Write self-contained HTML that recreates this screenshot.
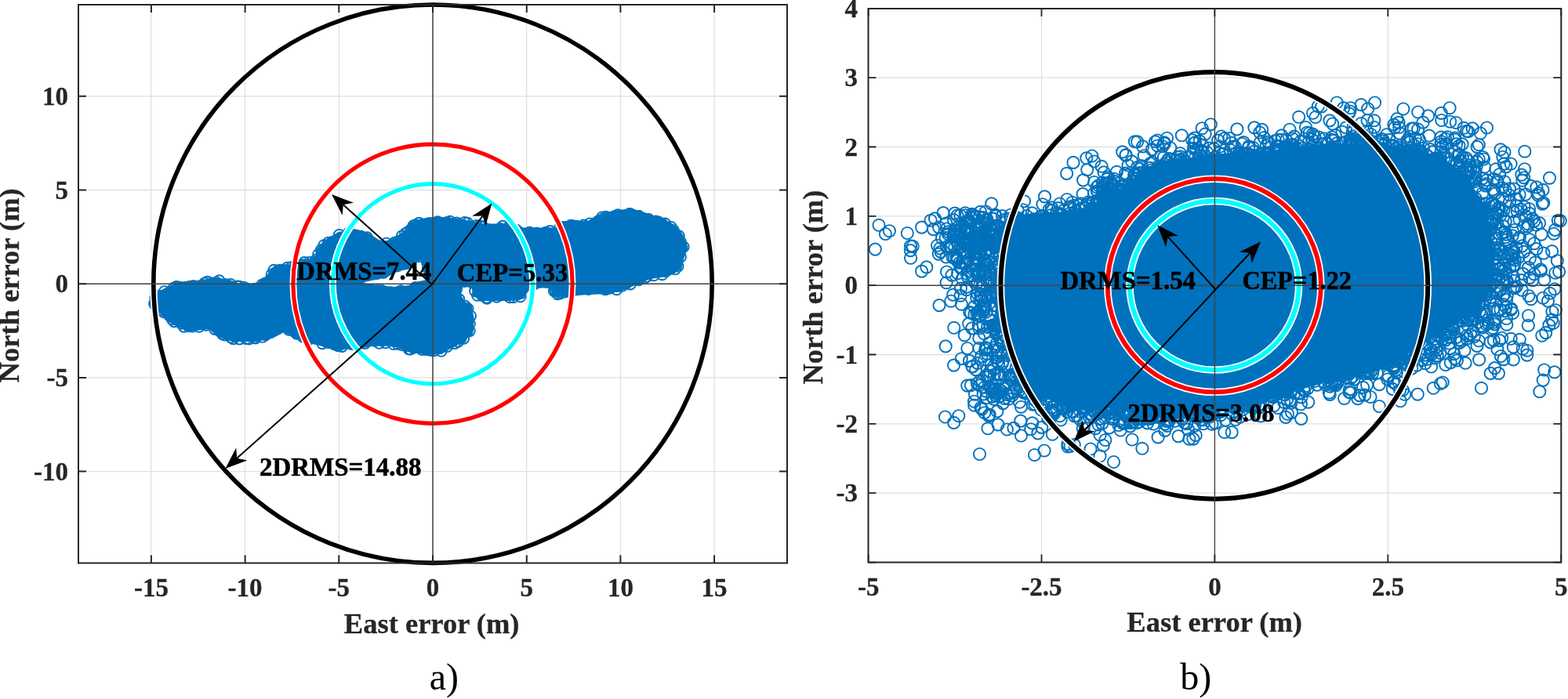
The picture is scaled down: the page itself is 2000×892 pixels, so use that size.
<!DOCTYPE html><html><head><meta charset="utf-8"><style>html,body{margin:0;padding:0;background:#fff}body{width:2000px;height:892px;overflow:hidden}svg{display:block}circle.m{fill:none;stroke:#0072BD}</style></head><body>
<svg width="2000" height="892" viewBox="0 0 2000 892">
<rect width="2000" height="892" fill="#fff"/>
<g id="L">
<path d="M192.9 6V718.5M312.6 6V718.5M432.3 6V718.5M552 6V718.5M671.8 6V718.5M791.4 6V718.5M911.1 6V718.5M100 601.6H1004M100 481.9H1004M100 362.2H1004M100 242.5H1004M100 122.8H1004" stroke="#e0e0e0" stroke-width="1.3" fill="none"/>
<path d="M191 388L194 380L201 374L212 368L222 364L232 361.5L253 358.5L276 355.7L290 357L298 360L305 363L326 363.5L334 358.6L341 352L347 343L354 339L370 338L382 334L396 330.5L403 327L405 318L411 312L420 304L432 297.6L450 294L462 295L474 301L486 309L498 307L508 301L516 296L522 286L534 281L546 278.5L558 277.5L570 278.5L593 281.3L615 286.5L647 286.5L657 288L668 291.4L709 291.4L716 283L732 283L750 283L762 275L780 270.5L804 267L826 274L843 278.6L858 286.6L868.6 297.4L875.8 315.3L870.4 333.3L868.6 342.2L857.8 349.4L843.5 353L829 355L816.6 360.2L804 365.6L789.7 371L771.7 374.5L753.8 374.5L735.9 376.3L723.3 378.1L716 377L706 378L703 367L685 366L674 367L668 380L659 382.5L640 383L620 383L610 381L604 376L602.5 366L595 364.5L588 366L587 376L590 384L600.8 390.8L603.6 406.2L602.2 424.4L591 435.6L574.2 444L563 451L542 451L521 448.2L507 442.6L493 440.5L472 441.2L458 444L444 444L430 446.8L416 442.6L402 438.4L388 435.6L374 430L362 423L347.6 430.7L325.7 435.1L296.6 435.1L276.2 427.8L267.4 419L241.2 422L220.8 413.3L209.1 404.5L201.9 395.8Z" fill="#0072BD" stroke="#0072BD" stroke-width="2" stroke-linejoin="round"/>
<path d="M462.3 360.6L478 357.2L494.9 352.7L502.7 347.1L512.8 344.9L522.9 341.5L530.7 333.6L537.5 332.5L539.7 340.4L541.9 353.8L544.2 358.3L528.5 360.6L522.9 363.9L500.5 366.2L483.6 363.9L466.8 361.7Z" fill="#fff"/>
<g fill="none" stroke="#0072BD" stroke-width="1.9">
<circle cx="197.3" cy="388.2" r="6.8"/><circle cx="198.8" cy="382.3" r="6.8"/><circle cx="198.1" cy="380.8" r="6.8"/><circle cx="203.6" cy="380.2" r="6.8"/><circle cx="203.3" cy="377.4" r="6.8"/><circle cx="207.7" cy="379.1" r="6.8"/><circle cx="209.7" cy="371.9" r="6.8"/><circle cx="218.5" cy="372.5" r="6.8"/><circle cx="221.7" cy="367.4" r="6.8"/><circle cx="224.9" cy="365.8" r="6.8"/><circle cx="228.5" cy="366.2" r="6.8"/><circle cx="231.6" cy="367" r="6.8"/><circle cx="236.5" cy="366.5" r="6.8"/><circle cx="241.5" cy="365.7" r="6.8"/><circle cx="246.5" cy="364.7" r="6.8"/><circle cx="250.7" cy="367.9" r="6.8"/><circle cx="257.6" cy="364.9" r="6.8"/><circle cx="261" cy="361.2" r="6.8"/><circle cx="264.6" cy="359.6" r="6.8"/><circle cx="270.3" cy="361.2" r="6.8"/><circle cx="276" cy="360.4" r="6.8"/><circle cx="279.6" cy="358" r="6.8"/><circle cx="282.5" cy="364.7" r="6.8"/><circle cx="286.8" cy="365.6" r="6.8"/><circle cx="288.1" cy="363.1" r="6.8"/><circle cx="294.1" cy="362.7" r="6.8"/><circle cx="295.9" cy="368.6" r="6.8"/><circle cx="303.3" cy="365.3" r="6.8"/><circle cx="305.4" cy="365.4" r="6.8"/><circle cx="310.9" cy="366.4" r="6.8"/><circle cx="315.6" cy="368.4" r="6.8"/><circle cx="319" cy="370.5" r="6.8"/><circle cx="322.1" cy="369.9" r="6.8"/><circle cx="325.3" cy="368.4" r="6.8"/><circle cx="331.6" cy="370.4" r="6.8"/><circle cx="334" cy="363.5" r="6.8"/><circle cx="338" cy="361.4" r="6.8"/><circle cx="343.3" cy="358.7" r="6.8"/><circle cx="346.4" cy="350.2" r="6.8"/><circle cx="351.6" cy="349.4" r="6.8"/><circle cx="349.4" cy="344.5" r="6.8"/><circle cx="353.8" cy="346.1" r="6.8"/><circle cx="357" cy="344.5" r="6.8"/><circle cx="356.6" cy="347.6" r="6.8"/><circle cx="360.8" cy="344.6" r="6.8"/><circle cx="366.5" cy="341.5" r="6.8"/><circle cx="370" cy="346.4" r="6.8"/><circle cx="372.1" cy="340.8" r="6.8"/><circle cx="378.9" cy="344.1" r="6.8"/><circle cx="382.1" cy="343.1" r="6.8"/><circle cx="385.8" cy="338.1" r="6.8"/><circle cx="388.2" cy="334.8" r="6.8"/><circle cx="394.5" cy="334.7" r="6.8"/><circle cx="400.5" cy="336.9" r="6.8"/><circle cx="403.2" cy="331.4" r="6.8"/><circle cx="406.1" cy="324.4" r="6.8"/><circle cx="410.2" cy="321.7" r="6.8"/><circle cx="409.8" cy="318.8" r="6.8"/><circle cx="413.1" cy="313" r="6.8"/><circle cx="417.8" cy="312.8" r="6.8"/><circle cx="418.8" cy="309.4" r="6.8"/><circle cx="423.6" cy="308.8" r="6.8"/><circle cx="425.3" cy="310.5" r="6.8"/><circle cx="430" cy="306.1" r="6.8"/><circle cx="434.4" cy="303.2" r="6.8"/><circle cx="432.6" cy="299.7" r="6.8"/><circle cx="439.4" cy="303.2" r="6.8"/><circle cx="444.5" cy="297.3" r="6.8"/><circle cx="450" cy="299.5" r="6.8"/><circle cx="450.7" cy="303.1" r="6.8"/><circle cx="453.9" cy="300.2" r="6.8"/><circle cx="459" cy="303.1" r="6.8"/><circle cx="461.5" cy="303.2" r="6.8"/><circle cx="468.2" cy="303.1" r="6.8"/><circle cx="472.9" cy="310" r="6.8"/><circle cx="476.7" cy="311.8" r="6.8"/><circle cx="482.4" cy="313.8" r="6.8"/><circle cx="488.7" cy="314.7" r="6.8"/><circle cx="492.9" cy="310.4" r="6.8"/><circle cx="498.9" cy="315.9" r="6.8"/><circle cx="503.2" cy="309.4" r="6.8"/><circle cx="508.5" cy="307.8" r="6.8"/><circle cx="512.6" cy="301.2" r="6.8"/><circle cx="516.9" cy="298" r="6.8"/><circle cx="520.2" cy="296" r="6.8"/><circle cx="524.5" cy="292.5" r="6.8"/><circle cx="527.3" cy="287.9" r="6.8"/><circle cx="529.9" cy="287.1" r="6.8"/><circle cx="534.4" cy="284.5" r="6.8"/><circle cx="539.3" cy="286.6" r="6.8"/><circle cx="543.9" cy="287.4" r="6.8"/><circle cx="547.3" cy="285" r="6.8"/><circle cx="548.6" cy="286" r="6.8"/><circle cx="554.6" cy="286" r="6.8"/><circle cx="558.5" cy="283.6" r="6.8"/><circle cx="558.2" cy="283" r="6.8"/><circle cx="563.6" cy="285.9" r="6.8"/><circle cx="568.8" cy="287.1" r="6.8"/><circle cx="570.1" cy="283.7" r="6.8"/><circle cx="574" cy="282.5" r="6.8"/><circle cx="577.8" cy="285.9" r="6.8"/><circle cx="582.5" cy="284.3" r="6.8"/><circle cx="587.6" cy="289.6" r="6.8"/><circle cx="592.7" cy="283.8" r="6.8"/><circle cx="596.3" cy="284.4" r="6.8"/><circle cx="600.6" cy="289.2" r="6.8"/><circle cx="603.9" cy="291.6" r="6.8"/><circle cx="607.7" cy="287.8" r="6.8"/><circle cx="612.1" cy="288" r="6.8"/><circle cx="616.1" cy="289.5" r="6.8"/><circle cx="618.9" cy="292.9" r="6.8"/><circle cx="623.2" cy="292.9" r="6.8"/><circle cx="628.3" cy="294.2" r="6.8"/><circle cx="634.5" cy="293.3" r="6.8"/><circle cx="637.9" cy="291.8" r="6.8"/><circle cx="641.2" cy="288.6" r="6.8"/><circle cx="645.6" cy="293.5" r="6.8"/><circle cx="647.6" cy="291.1" r="6.8"/><circle cx="652.5" cy="293" r="6.8"/><circle cx="658.8" cy="293.5" r="6.8"/><circle cx="663.1" cy="298.6" r="6.8"/><circle cx="672.2" cy="298.5" r="6.8"/><circle cx="675.4" cy="296.6" r="6.8"/><circle cx="680.3" cy="299.8" r="6.8"/><circle cx="684.4" cy="297.4" r="6.8"/><circle cx="690.2" cy="299" r="6.8"/><circle cx="696.3" cy="296.6" r="6.8"/><circle cx="701.4" cy="294.8" r="6.8"/><circle cx="706.7" cy="299.1" r="6.8"/><circle cx="713.8" cy="291.2" r="6.8"/><circle cx="721.7" cy="290" r="6.8"/><circle cx="718.4" cy="290.5" r="6.8"/><circle cx="722.3" cy="291.4" r="6.8"/><circle cx="728.1" cy="287.4" r="6.8"/><circle cx="731" cy="288.1" r="6.8"/><circle cx="735.5" cy="288.4" r="6.8"/><circle cx="738.3" cy="290.7" r="6.8"/><circle cx="741.2" cy="290.6" r="6.8"/><circle cx="744.5" cy="287.3" r="6.8"/><circle cx="752.2" cy="285.2" r="6.8"/><circle cx="758.2" cy="286" r="6.8"/><circle cx="762.9" cy="282.6" r="6.8"/><circle cx="766.2" cy="282.8" r="6.8"/><circle cx="767.9" cy="277.2" r="6.8"/><circle cx="772.5" cy="276.5" r="6.8"/><circle cx="778.3" cy="277.6" r="6.8"/><circle cx="784.6" cy="275.8" r="6.8"/><circle cx="788.2" cy="274" r="6.8"/><circle cx="794.4" cy="276.8" r="6.8"/><circle cx="797.8" cy="275.9" r="6.8"/><circle cx="803.6" cy="272.8" r="6.8"/><circle cx="803.1" cy="272.8" r="6.8"/><circle cx="807.3" cy="274.6" r="6.8"/><circle cx="809.2" cy="277.9" r="6.8"/><circle cx="814.7" cy="275.5" r="6.8"/><circle cx="819.7" cy="278.2" r="6.8"/><circle cx="823.7" cy="280.4" r="6.8"/><circle cx="827.1" cy="279.4" r="6.8"/><circle cx="832.1" cy="284.4" r="6.8"/><circle cx="836.4" cy="282.3" r="6.8"/><circle cx="839.5" cy="282.9" r="6.8"/><circle cx="844.1" cy="285.2" r="6.8"/><circle cx="848.4" cy="285.3" r="6.8"/><circle cx="850.3" cy="292.1" r="6.8"/><circle cx="853.6" cy="292.7" r="6.8"/><circle cx="856" cy="289.7" r="6.8"/><circle cx="859.2" cy="293.9" r="6.8"/><circle cx="860.5" cy="298.2" r="6.8"/><circle cx="862.1" cy="300.9" r="6.8"/><circle cx="866" cy="300.9" r="6.8"/><circle cx="865.4" cy="304.8" r="6.8"/><circle cx="868" cy="308.4" r="6.8"/><circle cx="868.6" cy="312.7" r="6.8"/><circle cx="871.9" cy="314.9" r="6.8"/><circle cx="869.5" cy="316.4" r="6.8"/><circle cx="867.3" cy="321.8" r="6.8"/><circle cx="868.2" cy="328.1" r="6.8"/><circle cx="861.5" cy="335.2" r="6.8"/><circle cx="864.8" cy="339.8" r="6.8"/><circle cx="862.8" cy="335.3" r="6.8"/><circle cx="861.2" cy="343.6" r="6.8"/><circle cx="856" cy="342.1" r="6.8"/><circle cx="855.5" cy="341.9" r="6.8"/><circle cx="851.4" cy="343.2" r="6.8"/><circle cx="849.1" cy="346.6" r="6.8"/><circle cx="844.7" cy="350.5" r="6.8"/><circle cx="839.3" cy="345.1" r="6.8"/><circle cx="833.9" cy="351.5" r="6.8"/><circle cx="828.9" cy="347.6" r="6.8"/><circle cx="824.9" cy="353.1" r="6.8"/><circle cx="822.4" cy="354.8" r="6.8"/><circle cx="818.5" cy="353" r="6.8"/><circle cx="814.3" cy="354.7" r="6.8"/><circle cx="814.5" cy="357.4" r="6.8"/><circle cx="807.1" cy="354.6" r="6.8"/><circle cx="804" cy="362.7" r="6.8"/><circle cx="798.1" cy="362.2" r="6.8"/><circle cx="793.4" cy="365" r="6.8"/><circle cx="788.8" cy="365.3" r="6.8"/><circle cx="786.6" cy="369.5" r="6.8"/><circle cx="780.4" cy="364.7" r="6.8"/><circle cx="777.6" cy="368.1" r="6.8"/><circle cx="772.4" cy="369.4" r="6.8"/><circle cx="771" cy="368.9" r="6.8"/><circle cx="768.2" cy="366.2" r="6.8"/><circle cx="762.6" cy="367.6" r="6.8"/><circle cx="756.8" cy="368.1" r="6.8"/><circle cx="750.6" cy="369.3" r="6.8"/><circle cx="744.1" cy="367.8" r="6.8"/><circle cx="740.5" cy="367.4" r="6.8"/><circle cx="735.2" cy="368.9" r="6.8"/><circle cx="732.9" cy="368.4" r="6.8"/><circle cx="727.3" cy="370.6" r="6.8"/><circle cx="720.6" cy="372.8" r="6.8"/><circle cx="715.2" cy="372.7" r="6.8"/><circle cx="711.1" cy="375.4" r="6.8"/><circle cx="706.7" cy="371.4" r="6.8"/><circle cx="714" cy="374.7" r="6.8"/><circle cx="708.6" cy="370.9" r="6.8"/><circle cx="708.8" cy="365.6" r="6.8"/><circle cx="701.7" cy="357.9" r="6.8"/><circle cx="696.6" cy="359.7" r="6.8"/><circle cx="691.3" cy="357.5" r="6.8"/><circle cx="688.4" cy="359.9" r="6.8"/><circle cx="683.4" cy="361.3" r="6.8"/><circle cx="680.7" cy="363" r="6.8"/><circle cx="676.7" cy="364.1" r="6.8"/><circle cx="667" cy="368.2" r="6.8"/><circle cx="662.4" cy="371.1" r="6.8"/><circle cx="660.3" cy="375.4" r="6.8"/><circle cx="663.8" cy="378.5" r="6.8"/><circle cx="657.9" cy="375.2" r="6.8"/><circle cx="654.7" cy="379.5" r="6.8"/><circle cx="650.3" cy="379.5" r="6.8"/><circle cx="645.8" cy="376.6" r="6.8"/><circle cx="642.8" cy="374.3" r="6.8"/><circle cx="637.6" cy="376.8" r="6.8"/><circle cx="633.6" cy="379" r="6.8"/><circle cx="628.6" cy="377.1" r="6.8"/><circle cx="624.8" cy="376" r="6.8"/><circle cx="621.1" cy="380.9" r="6.8"/><circle cx="620.4" cy="379.9" r="6.8"/><circle cx="615.4" cy="377.3" r="6.8"/><circle cx="608.9" cy="377" r="6.8"/><circle cx="605.9" cy="371.4" r="6.8"/><circle cx="601.7" cy="360.4" r="6.8"/><circle cx="592.7" cy="359.2" r="6.8"/><circle cx="582.4" cy="368.7" r="6.8"/><circle cx="579.4" cy="374.7" r="6.8"/><circle cx="581.2" cy="378.7" r="6.8"/><circle cx="585.5" cy="381.8" r="6.8"/><circle cx="584.4" cy="385.3" r="6.8"/><circle cx="588.1" cy="390.7" r="6.8"/><circle cx="593.3" cy="390.6" r="6.8"/><circle cx="596.8" cy="394.1" r="6.8"/><circle cx="592.4" cy="394.8" r="6.8"/><circle cx="595.3" cy="400.5" r="6.8"/><circle cx="600.2" cy="403.2" r="6.8"/><circle cx="597" cy="409.2" r="6.8"/><circle cx="599.1" cy="413.4" r="6.8"/><circle cx="596.7" cy="418.4" r="6.8"/><circle cx="595.8" cy="423.2" r="6.8"/><circle cx="598.9" cy="422.4" r="6.8"/><circle cx="591.2" cy="423.5" r="6.8"/><circle cx="591.4" cy="431.9" r="6.8"/><circle cx="587.7" cy="431.7" r="6.8"/><circle cx="584.3" cy="435.9" r="6.8"/><circle cx="580.2" cy="438.2" r="6.8"/><circle cx="575.6" cy="435.8" r="6.8"/><circle cx="571.6" cy="438.1" r="6.8"/><circle cx="570.5" cy="442.2" r="6.8"/><circle cx="565.2" cy="441.1" r="6.8"/><circle cx="562.8" cy="448.1" r="6.8"/><circle cx="559.4" cy="444.6" r="6.8"/><circle cx="553.9" cy="447.5" r="6.8"/><circle cx="549.7" cy="447.2" r="6.8"/><circle cx="544" cy="446.4" r="6.8"/><circle cx="538.2" cy="446.2" r="6.8"/><circle cx="533.9" cy="442.6" r="6.8"/><circle cx="527.7" cy="444" r="6.8"/><circle cx="523.4" cy="445.8" r="6.8"/><circle cx="521.6" cy="445.7" r="6.8"/><circle cx="518.3" cy="441.3" r="6.8"/><circle cx="513" cy="440.6" r="6.8"/><circle cx="507.2" cy="439.1" r="6.8"/><circle cx="502" cy="439.3" r="6.8"/><circle cx="498.9" cy="434.2" r="6.8"/><circle cx="491.6" cy="437.5" r="6.8"/><circle cx="487.5" cy="433.6" r="6.8"/><circle cx="483.6" cy="438" r="6.8"/><circle cx="478.3" cy="435" r="6.8"/><circle cx="472.2" cy="432.6" r="6.8"/><circle cx="468.6" cy="434.1" r="6.8"/><circle cx="465.5" cy="438.2" r="6.8"/><circle cx="460.6" cy="434.8" r="6.8"/><circle cx="456.9" cy="439.5" r="6.8"/><circle cx="452.9" cy="439.5" r="6.8"/><circle cx="448.7" cy="439.3" r="6.8"/><circle cx="445.3" cy="438.1" r="6.8"/><circle cx="440.1" cy="436.8" r="6.8"/><circle cx="436.3" cy="442.2" r="6.8"/><circle cx="430.1" cy="438.5" r="6.8"/><circle cx="431.5" cy="441.4" r="6.8"/><circle cx="427.2" cy="439.7" r="6.8"/><circle cx="421.4" cy="437.4" r="6.8"/><circle cx="417.4" cy="436.9" r="6.8"/><circle cx="411.2" cy="438.4" r="6.8"/><circle cx="409.6" cy="433.2" r="6.8"/><circle cx="402.9" cy="432" r="6.8"/><circle cx="399.9" cy="430.6" r="6.8"/><circle cx="394.3" cy="433.1" r="6.8"/><circle cx="391.5" cy="428.8" r="6.8"/><circle cx="386.6" cy="429.9" r="6.8"/><circle cx="384.4" cy="424.7" r="6.8"/><circle cx="378.4" cy="425.9" r="6.8"/><circle cx="374.7" cy="422.4" r="6.8"/><circle cx="368.5" cy="421.1" r="6.8"/><circle cx="355.6" cy="417.4" r="6.8"/><circle cx="350.7" cy="420.1" r="6.8"/><circle cx="345.1" cy="422.2" r="6.8"/><circle cx="343.9" cy="424.3" r="6.8"/><circle cx="338.8" cy="427.4" r="6.8"/><circle cx="335.1" cy="430.1" r="6.8"/><circle cx="328.7" cy="425.4" r="6.8"/><circle cx="325.8" cy="431.8" r="6.8"/><circle cx="323.8" cy="431.1" r="6.8"/><circle cx="317.6" cy="432.7" r="6.8"/><circle cx="313.8" cy="432.3" r="6.8"/><circle cx="308.8" cy="427.7" r="6.8"/><circle cx="305.4" cy="432.7" r="6.8"/><circle cx="301.1" cy="429" r="6.8"/><circle cx="297.4" cy="432.4" r="6.8"/><circle cx="294.5" cy="430.6" r="6.8"/><circle cx="292.3" cy="426.1" r="6.8"/><circle cx="286.6" cy="427.7" r="6.8"/><circle cx="283.5" cy="426.2" r="6.8"/><circle cx="281.5" cy="422" r="6.8"/><circle cx="279.9" cy="420.6" r="6.8"/><circle cx="274" cy="420.2" r="6.8"/><circle cx="262.8" cy="415.1" r="6.8"/><circle cx="257.7" cy="411.4" r="6.8"/><circle cx="253.9" cy="417" r="6.8"/><circle cx="250.4" cy="412.3" r="6.8"/><circle cx="245.3" cy="416.8" r="6.8"/><circle cx="240.6" cy="416.4" r="6.8"/><circle cx="239.7" cy="414.2" r="6.8"/><circle cx="234.6" cy="416.9" r="6.8"/><circle cx="231.6" cy="412.9" r="6.8"/><circle cx="227.4" cy="408.5" r="6.8"/><circle cx="222.1" cy="410.4" r="6.8"/><circle cx="219.4" cy="407.5" r="6.8"/><circle cx="215.9" cy="402.6" r="6.8"/><circle cx="209.2" cy="398.6" r="6.8"/><circle cx="205.7" cy="395.5" r="6.8"/><circle cx="206.4" cy="389.5" r="6.8"/><circle cx="201.7" cy="386.1" r="6.8"/><circle cx="197" cy="387.5" r="6.8"/><circle cx="461.4" cy="353.5" r="6.8"/><circle cx="466.7" cy="350.6" r="6.8"/><circle cx="473.1" cy="349.6" r="6.8"/><circle cx="480.8" cy="349.3" r="6.8"/><circle cx="488.8" cy="348.3" r="6.8"/><circle cx="491.6" cy="346" r="6.8"/><circle cx="497.4" cy="343.5" r="6.8"/><circle cx="503.1" cy="340.3" r="6.8"/><circle cx="507" cy="339.4" r="6.8"/><circle cx="514.7" cy="337.1" r="6.8"/><circle cx="518.5" cy="336.2" r="6.8"/><circle cx="521.1" cy="330.7" r="6.8"/><circle cx="533.7" cy="327.5" r="6.8"/><circle cx="544.7" cy="334.9" r="6.8"/><circle cx="545.6" cy="342.2" r="6.8"/><circle cx="549.7" cy="350" r="6.8"/><circle cx="549.4" cy="354.1" r="6.8"/><circle cx="541.9" cy="365.2" r="6.8"/><circle cx="536.8" cy="366.3" r="6.8"/><circle cx="530" cy="366.8" r="6.8"/><circle cx="528.1" cy="368.6" r="6.8"/><circle cx="520.4" cy="372.2" r="6.8"/><circle cx="515.2" cy="373.1" r="6.8"/><circle cx="511" cy="371.1" r="6.8"/><circle cx="507.1" cy="373.4" r="6.8"/><circle cx="498.5" cy="372.9" r="6.8"/><circle cx="490.9" cy="372.5" r="6.8"/><circle cx="487" cy="370.7" r="6.8"/><circle cx="482" cy="370.7" r="6.8"/><circle cx="477.8" cy="371.9" r="6.8"/><circle cx="472.4" cy="369.8" r="6.8"/><circle cx="460.3" cy="368.7" r="6.8"/>
</g>
<circle cx="552" cy="362.2" r="356.2" fill="none" stroke="#fff" stroke-width="9.2"/>
<circle cx="552" cy="362.2" r="356.2" fill="none" stroke="#000" stroke-width="5.6"/>
<circle cx="552" cy="362.2" r="178.1" fill="none" stroke="#fff" stroke-width="8.8"/>
<circle cx="552" cy="362.2" r="178.1" fill="none" stroke="#f00" stroke-width="5.2"/>
<circle cx="552" cy="362.2" r="127.6" fill="none" stroke="#fff" stroke-width="8.8"/>
<circle cx="552" cy="362.2" r="127.6" fill="none" stroke="#0ff" stroke-width="5.2"/>
<path d="M100 362.2H1004M552 6V718.5" stroke="#444" stroke-width="1.5" fill="none"/>
<path d="M192.9 718.5v-10M192.9 6v10M312.6 718.5v-10M312.6 6v10M432.3 718.5v-10M432.3 6v10M552 718.5v-10M552 6v10M671.8 718.5v-10M671.8 6v10M791.4 718.5v-10M791.4 6v10M911.1 718.5v-10M911.1 6v10M100 601.6h10M1004 601.6h-10M100 481.9h10M1004 481.9h-10M100 362.2h10M1004 362.2h-10M100 242.5h10M1004 242.5h-10M100 122.8h10M1004 122.8h-10" stroke="#262626" stroke-width="2" fill="none"/>
<rect x="100" y="6" width="904" height="712.5" fill="none" stroke="#262626" stroke-width="2"/>
</g>
<g id="R">
<path d="M1107.7 11V717.6M1328.5 11V717.6M1549.4 11V717.6M1770.3 11V717.6M1991.2 11V717.6M1107.5 717.6H1991.3M1107.5 629.2H1991.3M1107.5 540.9H1991.3M1107.5 452.5H1991.3M1107.5 364.2H1991.3M1107.5 275.9H1991.3M1107.5 187.5H1991.3M1107.5 99.2H1991.3M1107.5 10.8H1991.3" stroke="#e0e0e0" stroke-width="1.3" fill="none"/>
<path d="M1284 300L1290 276L1330 273L1370 271L1392 268L1402 256L1420 248L1440 234L1460 217L1480 207L1511 204L1548 198L1585 196L1622 193L1659 189L1700 184L1757 186L1811 193L1838 202L1865 221L1892 261L1901 300L1904 330L1904 364L1890 385L1876 398L1860 410L1840 420L1818 436L1800 446L1780 461L1758 471L1720 480L1700 484L1650 498L1600 516L1550 523L1500 531L1450 532L1434 516L1384 523L1323 504L1300 482L1288 440L1279 400L1277 364L1280 330Z" fill="#0072BD" stroke="#0072BD" stroke-width="3" stroke-linejoin="round"/>
<g fill="none" stroke="#0072BD" stroke-width="1.9">
<circle cx="1318.4" cy="491.8" r="7.6"/><circle cx="1489" cy="207.5" r="7.6"/><circle cx="1722.7" cy="137.7" r="7.6"/><circle cx="1894.7" cy="372.8" r="7.6"/><circle cx="1302.5" cy="519.2" r="7.6"/><circle cx="1532.1" cy="526.6" r="7.6"/><circle cx="1876.6" cy="390.4" r="7.6"/><circle cx="1461.7" cy="221" r="7.6"/><circle cx="1283" cy="342.1" r="7.6"/><circle cx="1699.2" cy="489" r="7.6"/><circle cx="1910.3" cy="365.7" r="7.6"/><circle cx="1920.9" cy="348.9" r="7.6"/><circle cx="1831.7" cy="443.1" r="7.6"/><circle cx="1411.6" cy="521.9" r="7.6"/><circle cx="1499.3" cy="204.9" r="7.6"/><circle cx="1930" cy="339.4" r="7.6"/><circle cx="1324.6" cy="501.2" r="7.6"/><circle cx="1607.1" cy="515.7" r="7.6"/><circle cx="1786.8" cy="194" r="7.6"/><circle cx="1713.8" cy="137.8" r="7.6"/><circle cx="1420.7" cy="236.1" r="7.6"/><circle cx="1832.1" cy="442.7" r="7.6"/><circle cx="1909.8" cy="230.2" r="7.6"/><circle cx="1873.6" cy="397.4" r="7.6"/><circle cx="1670.2" cy="169.8" r="7.6"/><circle cx="1311.8" cy="484.7" r="7.6"/><circle cx="1662.9" cy="195.1" r="7.6"/><circle cx="1267.7" cy="389.4" r="7.6"/><circle cx="1279.3" cy="461" r="7.6"/><circle cx="1896.5" cy="163" r="7.6"/><circle cx="1323.1" cy="497.5" r="7.6"/><circle cx="1804.4" cy="455.2" r="7.6"/><circle cx="1357.3" cy="268.3" r="7.6"/><circle cx="1341.6" cy="511.4" r="7.6"/><circle cx="1316.7" cy="539.9" r="7.6"/><circle cx="1463.7" cy="539.9" r="7.6"/><circle cx="1577" cy="519.7" r="7.6"/><circle cx="1269.5" cy="420.8" r="7.6"/><circle cx="1927.3" cy="395.3" r="7.6"/><circle cx="1833.2" cy="418.8" r="7.6"/><circle cx="1885" cy="411.4" r="7.6"/><circle cx="1837" cy="429.9" r="7.6"/><circle cx="1481.1" cy="212.2" r="7.6"/><circle cx="1586.2" cy="181.6" r="7.6"/><circle cx="1251.5" cy="378.5" r="7.6"/><circle cx="1829.9" cy="437.1" r="7.6"/><circle cx="1907.7" cy="272" r="7.6"/><circle cx="1867.1" cy="163.3" r="7.6"/><circle cx="1270.1" cy="415.2" r="7.6"/><circle cx="1269.5" cy="274.9" r="7.6"/><circle cx="1530.2" cy="180.1" r="7.6"/><circle cx="1670.5" cy="190.3" r="7.6"/><circle cx="1677" cy="174.5" r="7.6"/><circle cx="1942.6" cy="349.4" r="7.6"/><circle cx="1404.3" cy="263.8" r="7.6"/><circle cx="1808.7" cy="183.7" r="7.6"/><circle cx="1254.4" cy="415.2" r="7.6"/><circle cx="1511.6" cy="206.7" r="7.6"/><circle cx="1922.3" cy="361" r="7.6"/><circle cx="1680.1" cy="491.1" r="7.6"/><circle cx="1327.3" cy="276.2" r="7.6"/><circle cx="1473.6" cy="180.8" r="7.6"/><circle cx="1429.2" cy="549" r="7.6"/><circle cx="1389.4" cy="532.1" r="7.6"/><circle cx="1407.1" cy="237.1" r="7.6"/><circle cx="1733" cy="178.5" r="7.6"/><circle cx="1965.1" cy="343.7" r="7.6"/><circle cx="1659.9" cy="506.9" r="7.6"/><circle cx="1840" cy="187" r="7.6"/><circle cx="1888.4" cy="170" r="7.6"/><circle cx="1301.1" cy="466.2" r="7.6"/><circle cx="1758.4" cy="189.5" r="7.6"/><circle cx="1808.2" cy="503.1" r="7.6"/><circle cx="1347.4" cy="272.2" r="7.6"/><circle cx="1804.9" cy="196.8" r="7.6"/><circle cx="1890.3" cy="275.5" r="7.6"/><circle cx="1913.1" cy="318.1" r="7.6"/><circle cx="1902.5" cy="283.2" r="7.6"/><circle cx="1905.8" cy="329.6" r="7.6"/><circle cx="1917.7" cy="388.5" r="7.6"/><circle cx="1603.2" cy="200.5" r="7.6"/><circle cx="1796.9" cy="446.9" r="7.6"/><circle cx="1627.9" cy="186.9" r="7.6"/><circle cx="1510.6" cy="539.3" r="7.6"/><circle cx="1778.3" cy="466.1" r="7.6"/><circle cx="1507.8" cy="206.9" r="7.6"/><circle cx="1573.6" cy="525.1" r="7.6"/><circle cx="1289.3" cy="440.9" r="7.6"/><circle cx="1798" cy="461.6" r="7.6"/><circle cx="1488.4" cy="176.2" r="7.6"/><circle cx="1962.5" cy="246.6" r="7.6"/><circle cx="1828.9" cy="441.2" r="7.6"/><circle cx="1914" cy="190.8" r="7.6"/><circle cx="1641.4" cy="188.6" r="7.6"/><circle cx="1320.3" cy="499.5" r="7.6"/><circle cx="1513.2" cy="540.1" r="7.6"/><circle cx="1899.9" cy="375.1" r="7.6"/><circle cx="1913.4" cy="370.5" r="7.6"/><circle cx="1894.7" cy="381.3" r="7.6"/><circle cx="1265.7" cy="377" r="7.6"/><circle cx="1266.3" cy="414.9" r="7.6"/><circle cx="1418.4" cy="249.5" r="7.6"/><circle cx="1284.8" cy="344.1" r="7.6"/><circle cx="1479.7" cy="531.9" r="7.6"/><circle cx="1897.1" cy="322.8" r="7.6"/><circle cx="1448.6" cy="533.4" r="7.6"/><circle cx="1943.5" cy="321.4" r="7.6"/><circle cx="1724.6" cy="178.3" r="7.6"/><circle cx="1799.3" cy="180.7" r="7.6"/><circle cx="1712" cy="168.2" r="7.6"/><circle cx="1401" cy="236.7" r="7.6"/><circle cx="1862" cy="211.3" r="7.6"/><circle cx="1600.1" cy="515.6" r="7.6"/><circle cx="1916.5" cy="253.1" r="7.6"/><circle cx="1543.2" cy="531.7" r="7.6"/><circle cx="1283.8" cy="324.2" r="7.6"/><circle cx="1337.5" cy="505" r="7.6"/><circle cx="1921.6" cy="406.5" r="7.6"/><circle cx="1943.2" cy="289.2" r="7.6"/><circle cx="1698.6" cy="188.2" r="7.6"/><circle cx="1815.1" cy="156.1" r="7.6"/><circle cx="1848.6" cy="438" r="7.6"/><circle cx="1952.9" cy="381.7" r="7.6"/><circle cx="1861.6" cy="197.1" r="7.6"/><circle cx="1422.5" cy="238.9" r="7.6"/><circle cx="1807.3" cy="191.2" r="7.6"/><circle cx="1900.4" cy="282.7" r="7.6"/><circle cx="1940.6" cy="357.6" r="7.6"/><circle cx="1316.2" cy="271.8" r="7.6"/><circle cx="1841.4" cy="195.6" r="7.6"/><circle cx="1902.1" cy="308.9" r="7.6"/><circle cx="1306.3" cy="501.4" r="7.6"/><circle cx="1667.3" cy="169" r="7.6"/><circle cx="1282" cy="345.9" r="7.6"/><circle cx="1505.8" cy="533" r="7.6"/><circle cx="1440.4" cy="536.2" r="7.6"/><circle cx="1389.8" cy="268.3" r="7.6"/><circle cx="1735.3" cy="191.1" r="7.6"/><circle cx="1295.7" cy="278.9" r="7.6"/><circle cx="1488.7" cy="543.4" r="7.6"/><circle cx="1615.4" cy="185.8" r="7.6"/><circle cx="1304.1" cy="478.9" r="7.6"/><circle cx="1442.1" cy="539.6" r="7.6"/><circle cx="1507.6" cy="534.4" r="7.6"/><circle cx="1634.8" cy="172.8" r="7.6"/><circle cx="1826" cy="452.2" r="7.6"/><circle cx="1238.3" cy="491.6" r="7.6"/><circle cx="1329.3" cy="275.8" r="7.6"/><circle cx="1892.5" cy="203" r="7.6"/><circle cx="1698.4" cy="491.2" r="7.6"/><circle cx="1870.9" cy="432.1" r="7.6"/><circle cx="1400" cy="516.1" r="7.6"/><circle cx="1929.6" cy="269.7" r="7.6"/><circle cx="1512" cy="524.3" r="7.6"/><circle cx="1263.3" cy="350.5" r="7.6"/><circle cx="1436.3" cy="516.7" r="7.6"/><circle cx="1854.2" cy="420.7" r="7.6"/><circle cx="1646.1" cy="510.5" r="7.6"/><circle cx="1751.5" cy="186" r="7.6"/><circle cx="1704.2" cy="484.7" r="7.6"/><circle cx="1395.3" cy="523.2" r="7.6"/><circle cx="1906.8" cy="352.4" r="7.6"/><circle cx="1918" cy="458.6" r="7.6"/><circle cx="1919.7" cy="296.1" r="7.6"/><circle cx="1920.2" cy="242.6" r="7.6"/><circle cx="1938" cy="280" r="7.6"/><circle cx="1862.4" cy="408.4" r="7.6"/><circle cx="1736.2" cy="157.5" r="7.6"/><circle cx="1352.9" cy="509.7" r="7.6"/><circle cx="1288.1" cy="304.7" r="7.6"/><circle cx="1704.1" cy="491.6" r="7.6"/><circle cx="1571.1" cy="182.3" r="7.6"/><circle cx="1617.6" cy="181.1" r="7.6"/><circle cx="1723.2" cy="187" r="7.6"/><circle cx="1775.6" cy="185.7" r="7.6"/><circle cx="1454.5" cy="534.8" r="7.6"/><circle cx="1304.8" cy="267.7" r="7.6"/><circle cx="1439" cy="211" r="7.6"/><circle cx="1845.9" cy="416.3" r="7.6"/><circle cx="1298.2" cy="268.6" r="7.6"/><circle cx="1624.1" cy="506.9" r="7.6"/><circle cx="1412.7" cy="254.6" r="7.6"/><circle cx="1283" cy="279.7" r="7.6"/><circle cx="1907.6" cy="311.9" r="7.6"/><circle cx="1420.1" cy="534.6" r="7.6"/><circle cx="1907" cy="285.9" r="7.6"/><circle cx="1900" cy="359" r="7.6"/><circle cx="1811.3" cy="194.8" r="7.6"/><circle cx="1908.1" cy="303.9" r="7.6"/><circle cx="1967.3" cy="260.1" r="7.6"/><circle cx="1284.9" cy="415.3" r="7.6"/><circle cx="1717.3" cy="180.5" r="7.6"/><circle cx="1762" cy="177.5" r="7.6"/><circle cx="1342.8" cy="519.6" r="7.6"/><circle cx="1895.4" cy="273.3" r="7.6"/><circle cx="1868.9" cy="236" r="7.6"/><circle cx="1281.1" cy="388.1" r="7.6"/><circle cx="1534.8" cy="540.8" r="7.6"/><circle cx="1912.5" cy="292.2" r="7.6"/><circle cx="1455.9" cy="211.5" r="7.6"/><circle cx="1618.8" cy="196.8" r="7.6"/><circle cx="1959.9" cy="238.9" r="7.6"/><circle cx="1369.4" cy="272.1" r="7.6"/><circle cx="1825.4" cy="429.4" r="7.6"/><circle cx="1786.1" cy="185.5" r="7.6"/><circle cx="1861.7" cy="433.9" r="7.6"/><circle cx="1275.4" cy="405.6" r="7.6"/><circle cx="1292.2" cy="434.9" r="7.6"/><circle cx="1428" cy="536.9" r="7.6"/><circle cx="1599.9" cy="193.1" r="7.6"/><circle cx="1539.5" cy="194.3" r="7.6"/><circle cx="1931.1" cy="241" r="7.6"/><circle cx="1900.9" cy="384.9" r="7.6"/><circle cx="1443.6" cy="205.9" r="7.6"/><circle cx="1887.3" cy="397.6" r="7.6"/><circle cx="1421.3" cy="231.2" r="7.6"/><circle cx="1557" cy="529.7" r="7.6"/><circle cx="1781.3" cy="475.7" r="7.6"/><circle cx="1839.6" cy="432.9" r="7.6"/><circle cx="1829.6" cy="423" r="7.6"/><circle cx="1401" cy="523.4" r="7.6"/><circle cx="1641" cy="194.3" r="7.6"/><circle cx="1505" cy="204.5" r="7.6"/><circle cx="1664.2" cy="194.2" r="7.6"/><circle cx="1762.5" cy="190.7" r="7.6"/><circle cx="1270.6" cy="375.1" r="7.6"/><circle cx="1732.9" cy="473.9" r="7.6"/><circle cx="1902.7" cy="420.8" r="7.6"/><circle cx="1688.9" cy="177" r="7.6"/><circle cx="1283.3" cy="293.6" r="7.6"/><circle cx="1521.8" cy="194.9" r="7.6"/><circle cx="1913.2" cy="370" r="7.6"/><circle cx="1942.2" cy="445.2" r="7.6"/><circle cx="1900.4" cy="345.9" r="7.6"/><circle cx="1330.7" cy="502.3" r="7.6"/><circle cx="1917.2" cy="378" r="7.6"/><circle cx="1443.8" cy="538.1" r="7.6"/><circle cx="1663" cy="496.4" r="7.6"/><circle cx="1483.1" cy="186.7" r="7.6"/><circle cx="1453.6" cy="221.3" r="7.6"/><circle cx="1629.9" cy="520.5" r="7.6"/><circle cx="1263" cy="473.7" r="7.6"/><circle cx="1843.8" cy="465.5" r="7.6"/><circle cx="1665.5" cy="162.5" r="7.6"/><circle cx="1556.1" cy="523" r="7.6"/><circle cx="1632.8" cy="190.5" r="7.6"/><circle cx="1280" cy="394.7" r="7.6"/><circle cx="1914" cy="341.9" r="7.6"/><circle cx="1311.6" cy="488.5" r="7.6"/><circle cx="1288" cy="411.6" r="7.6"/><circle cx="1919.1" cy="360.7" r="7.6"/><circle cx="1876" cy="401.1" r="7.6"/><circle cx="1878.9" cy="422.9" r="7.6"/><circle cx="1256.5" cy="391.6" r="7.6"/><circle cx="1289.2" cy="301.2" r="7.6"/><circle cx="1803.4" cy="193.6" r="7.6"/><circle cx="1706.2" cy="482.9" r="7.6"/><circle cx="1812.7" cy="437" r="7.6"/><circle cx="1381.4" cy="521.2" r="7.6"/><circle cx="1789.4" cy="462.1" r="7.6"/><circle cx="1334.6" cy="527.6" r="7.6"/><circle cx="1303.1" cy="474.1" r="7.6"/><circle cx="1316" cy="504.7" r="7.6"/><circle cx="1803.1" cy="163.9" r="7.6"/><circle cx="1546" cy="541.2" r="7.6"/><circle cx="1858" cy="208" r="7.6"/><circle cx="1663.2" cy="194.5" r="7.6"/><circle cx="1399.3" cy="514.5" r="7.6"/><circle cx="1725.2" cy="184" r="7.6"/><circle cx="1883.3" cy="237.7" r="7.6"/><circle cx="1353.6" cy="272.9" r="7.6"/><circle cx="1451.7" cy="534.8" r="7.6"/><circle cx="1265.4" cy="301.9" r="7.6"/><circle cx="1583.2" cy="194.6" r="7.6"/><circle cx="1914.4" cy="368" r="7.6"/><circle cx="1965.4" cy="345.8" r="7.6"/><circle cx="1951" cy="354.4" r="7.6"/><circle cx="1477.5" cy="532.4" r="7.6"/><circle cx="1659.4" cy="515.8" r="7.6"/><circle cx="1751.6" cy="471.2" r="7.6"/><circle cx="1250.5" cy="375.7" r="7.6"/><circle cx="1452" cy="534" r="7.6"/><circle cx="1296.7" cy="496.4" r="7.6"/><circle cx="1731.8" cy="508.7" r="7.6"/><circle cx="1626" cy="191.1" r="7.6"/><circle cx="1264.2" cy="465.3" r="7.6"/><circle cx="1277.4" cy="416.2" r="7.6"/><circle cx="1297.6" cy="463.3" r="7.6"/><circle cx="1639.3" cy="496.4" r="7.6"/><circle cx="1559" cy="520.3" r="7.6"/><circle cx="1385.1" cy="265.3" r="7.6"/><circle cx="1684.4" cy="192.4" r="7.6"/><circle cx="1272.8" cy="396.9" r="7.6"/><circle cx="1563.3" cy="536" r="7.6"/><circle cx="1306.9" cy="491.7" r="7.6"/><circle cx="1531.7" cy="531.3" r="7.6"/><circle cx="1234.6" cy="353.8" r="7.6"/><circle cx="1873.6" cy="205.7" r="7.6"/><circle cx="1503.3" cy="206.2" r="7.6"/><circle cx="1526.3" cy="532.5" r="7.6"/><circle cx="1426.2" cy="520.2" r="7.6"/><circle cx="1807.2" cy="466.1" r="7.6"/><circle cx="1932.4" cy="293.2" r="7.6"/><circle cx="1421.4" cy="254.6" r="7.6"/><circle cx="1877.1" cy="408.3" r="7.6"/><circle cx="1668.7" cy="513.1" r="7.6"/><circle cx="1435.6" cy="221.1" r="7.6"/><circle cx="1505.4" cy="195.7" r="7.6"/><circle cx="1270.9" cy="438.6" r="7.6"/><circle cx="1747.7" cy="181.9" r="7.6"/><circle cx="1648.3" cy="184.4" r="7.6"/><circle cx="1285.5" cy="302.7" r="7.6"/><circle cx="1531.8" cy="207.7" r="7.6"/><circle cx="1476.4" cy="186" r="7.6"/><circle cx="1900" cy="293.8" r="7.6"/><circle cx="1900.6" cy="382.8" r="7.6"/><circle cx="1294.1" cy="454.5" r="7.6"/><circle cx="1822.9" cy="173.1" r="7.6"/><circle cx="1740.1" cy="190.2" r="7.6"/><circle cx="1381.1" cy="247.6" r="7.6"/><circle cx="1477.5" cy="212.3" r="7.6"/><circle cx="1700.4" cy="479.7" r="7.6"/><circle cx="1320.1" cy="510.7" r="7.6"/><circle cx="1317" cy="494.8" r="7.6"/><circle cx="1486.7" cy="526.3" r="7.6"/><circle cx="1776.9" cy="487.7" r="7.6"/><circle cx="1418.9" cy="253.6" r="7.6"/><circle cx="1357.4" cy="520.9" r="7.6"/><circle cx="1958.3" cy="334.8" r="7.6"/><circle cx="1904.2" cy="331.5" r="7.6"/><circle cx="1484.4" cy="200.8" r="7.6"/><circle cx="1528.8" cy="201.8" r="7.6"/><circle cx="1446.7" cy="223.7" r="7.6"/><circle cx="1434.8" cy="539.6" r="7.6"/><circle cx="1394.4" cy="524.3" r="7.6"/><circle cx="1698.6" cy="178.2" r="7.6"/><circle cx="1956.8" cy="349.7" r="7.6"/><circle cx="1741.5" cy="474.3" r="7.6"/><circle cx="1983.9" cy="348.2" r="7.6"/><circle cx="1287.1" cy="296.8" r="7.6"/><circle cx="1865.3" cy="217.9" r="7.6"/><circle cx="1789.3" cy="497.8" r="7.6"/><circle cx="1948.7" cy="288.9" r="7.6"/><circle cx="1271.6" cy="447.7" r="7.6"/><circle cx="1403.1" cy="555" r="7.6"/><circle cx="1743.6" cy="491.2" r="7.6"/><circle cx="1842" cy="201.5" r="7.6"/><circle cx="1917.4" cy="288.6" r="7.6"/><circle cx="1427.3" cy="519.3" r="7.6"/><circle cx="1650.8" cy="174.1" r="7.6"/><circle cx="1456.9" cy="572.3" r="7.6"/><circle cx="1891.8" cy="266.8" r="7.6"/><circle cx="1415.5" cy="518.4" r="7.6"/><circle cx="1561.8" cy="551.5" r="7.6"/><circle cx="1448.7" cy="526.1" r="7.6"/><circle cx="1733.1" cy="188.7" r="7.6"/><circle cx="1302.9" cy="479.9" r="7.6"/><circle cx="1534.3" cy="536" r="7.6"/><circle cx="1398.4" cy="260.7" r="7.6"/><circle cx="1440.4" cy="236" r="7.6"/><circle cx="1869.2" cy="404.2" r="7.6"/><circle cx="1478.1" cy="530.9" r="7.6"/><circle cx="1721.7" cy="496.7" r="7.6"/><circle cx="1401.1" cy="542" r="7.6"/><circle cx="1950.8" cy="272.3" r="7.6"/><circle cx="1723.1" cy="184.9" r="7.6"/><circle cx="1921.6" cy="357.8" r="7.6"/><circle cx="1340.5" cy="274.6" r="7.6"/><circle cx="1515.9" cy="199.7" r="7.6"/><circle cx="1338.3" cy="267.3" r="7.6"/><circle cx="1912.6" cy="222.5" r="7.6"/><circle cx="1296.8" cy="475.9" r="7.6"/><circle cx="1923.4" cy="328.4" r="7.6"/><circle cx="1726" cy="162.2" r="7.6"/><circle cx="1365.5" cy="275.4" r="7.6"/><circle cx="1741.2" cy="174.5" r="7.6"/><circle cx="1745.4" cy="192.1" r="7.6"/><circle cx="1296.7" cy="277.3" r="7.6"/><circle cx="1429.5" cy="520.3" r="7.6"/><circle cx="1941.4" cy="313.9" r="7.6"/><circle cx="1905.4" cy="262.5" r="7.6"/><circle cx="1905.3" cy="411.2" r="7.6"/><circle cx="1925.4" cy="240.9" r="7.6"/><circle cx="1433.6" cy="242.5" r="7.6"/><circle cx="1251.8" cy="325.5" r="7.6"/><circle cx="1731.9" cy="472.3" r="7.6"/><circle cx="1531.1" cy="535.7" r="7.6"/><circle cx="1589.6" cy="514.7" r="7.6"/><circle cx="1763.7" cy="177.7" r="7.6"/><circle cx="1838.2" cy="180.5" r="7.6"/><circle cx="1852.6" cy="414.4" r="7.6"/><circle cx="1746.6" cy="185.9" r="7.6"/><circle cx="1342.6" cy="527.2" r="7.6"/><circle cx="1281.2" cy="478.3" r="7.6"/><circle cx="1867.8" cy="447.2" r="7.6"/><circle cx="1849.3" cy="430.4" r="7.6"/><circle cx="1249.7" cy="486.1" r="7.6"/><circle cx="1738.6" cy="494.4" r="7.6"/><circle cx="1785.5" cy="170.2" r="7.6"/><circle cx="1485.2" cy="209.5" r="7.6"/><circle cx="1449.8" cy="539.8" r="7.6"/><circle cx="1279.9" cy="400.1" r="7.6"/><circle cx="1394.6" cy="258.2" r="7.6"/><circle cx="1891.2" cy="417.9" r="7.6"/><circle cx="1406.1" cy="253" r="7.6"/><circle cx="1600.9" cy="516.2" r="7.6"/><circle cx="1903.5" cy="285.6" r="7.6"/><circle cx="1716.8" cy="162.8" r="7.6"/><circle cx="1650" cy="193.8" r="7.6"/><circle cx="1267.8" cy="314.8" r="7.6"/><circle cx="1893.7" cy="376.2" r="7.6"/><circle cx="1665.8" cy="492.5" r="7.6"/><circle cx="1307.1" cy="499.2" r="7.6"/><circle cx="1918.2" cy="209.1" r="7.6"/><circle cx="1734.3" cy="504.6" r="7.6"/><circle cx="1882.3" cy="253.6" r="7.6"/><circle cx="1273.6" cy="364.5" r="7.6"/><circle cx="1893.3" cy="265.8" r="7.6"/><circle cx="1823.3" cy="424.1" r="7.6"/><circle cx="1770.9" cy="462.6" r="7.6"/><circle cx="1400.1" cy="244.8" r="7.6"/><circle cx="1905" cy="228.4" r="7.6"/><circle cx="1890.6" cy="271.7" r="7.6"/><circle cx="1453.2" cy="538.3" r="7.6"/><circle cx="1415.8" cy="253.8" r="7.6"/><circle cx="1282.5" cy="283.6" r="7.6"/><circle cx="1545.8" cy="526.3" r="7.6"/><circle cx="1896.4" cy="229.9" r="7.6"/><circle cx="1569.3" cy="191.3" r="7.6"/><circle cx="1590.3" cy="517.8" r="7.6"/><circle cx="1297.3" cy="485.8" r="7.6"/><circle cx="1756.6" cy="188.8" r="7.6"/><circle cx="1855.7" cy="457.7" r="7.6"/><circle cx="1259.5" cy="417.4" r="7.6"/><circle cx="1797.6" cy="194.3" r="7.6"/><circle cx="1418.2" cy="519.4" r="7.6"/><circle cx="1320.1" cy="491.9" r="7.6"/><circle cx="1863.6" cy="205.8" r="7.6"/><circle cx="1778.4" cy="487.7" r="7.6"/><circle cx="1817.9" cy="463.7" r="7.6"/><circle cx="1929.1" cy="317.8" r="7.6"/><circle cx="1281.4" cy="353.3" r="7.6"/><circle cx="1835.5" cy="202.9" r="7.6"/><circle cx="1726.9" cy="484.1" r="7.6"/><circle cx="1902.4" cy="286" r="7.6"/><circle cx="1877.3" cy="230" r="7.6"/><circle cx="1753.1" cy="162.5" r="7.6"/><circle cx="1983.5" cy="293.4" r="7.6"/><circle cx="1415.4" cy="518.6" r="7.6"/><circle cx="1395.3" cy="247.2" r="7.6"/><circle cx="1932.2" cy="332" r="7.6"/><circle cx="1279.7" cy="436" r="7.6"/><circle cx="1413.5" cy="527.7" r="7.6"/><circle cx="1855.6" cy="193.5" r="7.6"/><circle cx="1397.1" cy="546.7" r="7.6"/><circle cx="1542.4" cy="521.8" r="7.6"/><circle cx="1840.2" cy="488" r="7.6"/><circle cx="1344.7" cy="527.9" r="7.6"/><circle cx="1843.4" cy="411.4" r="7.6"/><circle cx="1319.9" cy="515.7" r="7.6"/><circle cx="1944.2" cy="264" r="7.6"/><circle cx="1837.3" cy="489.5" r="7.6"/><circle cx="1854.8" cy="451.6" r="7.6"/><circle cx="1439.6" cy="524.5" r="7.6"/><circle cx="1824.1" cy="190.6" r="7.6"/><circle cx="1780.7" cy="452.9" r="7.6"/><circle cx="1236.8" cy="398.3" r="7.6"/><circle cx="1605.2" cy="517.8" r="7.6"/><circle cx="1910.4" cy="266.2" r="7.6"/><circle cx="1838.7" cy="153.5" r="7.6"/><circle cx="1438.1" cy="237.9" r="7.6"/><circle cx="1283.4" cy="292" r="7.6"/><circle cx="1827" cy="193.8" r="7.6"/><circle cx="1784.1" cy="156.4" r="7.6"/><circle cx="1861.2" cy="404.1" r="7.6"/><circle cx="1805.3" cy="176.4" r="7.6"/><circle cx="1703.1" cy="489.6" r="7.6"/><circle cx="1780.2" cy="472.3" r="7.6"/><circle cx="1277.4" cy="373.6" r="7.6"/><circle cx="1786.2" cy="511.8" r="7.6"/><circle cx="1737" cy="469.9" r="7.6"/><circle cx="1920.2" cy="282.6" r="7.6"/><circle cx="1905.3" cy="393.8" r="7.6"/><circle cx="1323.9" cy="514.1" r="7.6"/><circle cx="1367.8" cy="258.2" r="7.6"/><circle cx="1669.5" cy="181.3" r="7.6"/><circle cx="1746.7" cy="469.1" r="7.6"/><circle cx="1373.5" cy="513.2" r="7.6"/><circle cx="1630.1" cy="178.3" r="7.6"/><circle cx="1577.3" cy="195.1" r="7.6"/><circle cx="1836.8" cy="420.6" r="7.6"/><circle cx="1283.1" cy="354.6" r="7.6"/><circle cx="1797.8" cy="174.2" r="7.6"/><circle cx="1341.7" cy="268.7" r="7.6"/><circle cx="1634.8" cy="178.2" r="7.6"/><circle cx="1268.9" cy="310.8" r="7.6"/><circle cx="1301.8" cy="493.1" r="7.6"/><circle cx="1899.1" cy="327.7" r="7.6"/><circle cx="1720.9" cy="474.4" r="7.6"/><circle cx="1686.2" cy="183.6" r="7.6"/><circle cx="1639.5" cy="499.8" r="7.6"/><circle cx="1370" cy="262.3" r="7.6"/><circle cx="1332.5" cy="250.9" r="7.6"/><circle cx="1285.8" cy="308.7" r="7.6"/><circle cx="1649.8" cy="186.1" r="7.6"/><circle cx="1831.7" cy="202" r="7.6"/><circle cx="1611.7" cy="506.5" r="7.6"/><circle cx="1881.6" cy="387.9" r="7.6"/><circle cx="1901.9" cy="264" r="7.6"/><circle cx="1905.3" cy="434.4" r="7.6"/><circle cx="1770.9" cy="479.5" r="7.6"/><circle cx="1844.7" cy="184.3" r="7.6"/><circle cx="1766.6" cy="184.2" r="7.6"/><circle cx="1913.6" cy="275" r="7.6"/><circle cx="1285.5" cy="293.6" r="7.6"/><circle cx="1521.3" cy="526.9" r="7.6"/><circle cx="1685.6" cy="136" r="7.6"/><circle cx="1329.9" cy="260.7" r="7.6"/><circle cx="1299.6" cy="279.1" r="7.6"/><circle cx="1920.3" cy="343.6" r="7.6"/><circle cx="1938.3" cy="302.7" r="7.6"/><circle cx="1780.5" cy="189.8" r="7.6"/><circle cx="1742.2" cy="476.5" r="7.6"/><circle cx="1263.6" cy="375.9" r="7.6"/><circle cx="1267.7" cy="344.4" r="7.6"/><circle cx="1246.9" cy="463.4" r="7.6"/><circle cx="1682.7" cy="189.2" r="7.6"/><circle cx="1270.1" cy="419.3" r="7.6"/><circle cx="1432.3" cy="238.1" r="7.6"/><circle cx="1743.4" cy="187.1" r="7.6"/><circle cx="1592.9" cy="186.9" r="7.6"/><circle cx="1906" cy="408.1" r="7.6"/><circle cx="1882.4" cy="219.6" r="7.6"/><circle cx="1886.3" cy="203.2" r="7.6"/><circle cx="1724.9" cy="169.3" r="7.6"/><circle cx="1279.4" cy="291.4" r="7.6"/><circle cx="1910.6" cy="273" r="7.6"/><circle cx="1662.3" cy="180.5" r="7.6"/><circle cx="1673.4" cy="177.6" r="7.6"/><circle cx="1524.4" cy="526.3" r="7.6"/><circle cx="1271" cy="341.6" r="7.6"/><circle cx="1365.7" cy="515.7" r="7.6"/><circle cx="1341.3" cy="264.9" r="7.6"/><circle cx="1255.6" cy="394.6" r="7.6"/><circle cx="1937.8" cy="304.3" r="7.6"/><circle cx="1537.1" cy="171.1" r="7.6"/><circle cx="1722.7" cy="501.1" r="7.6"/><circle cx="1916.8" cy="200.2" r="7.6"/><circle cx="1924.8" cy="248.8" r="7.6"/><circle cx="1514.8" cy="521.9" r="7.6"/><circle cx="1591.5" cy="528.8" r="7.6"/><circle cx="1405.1" cy="212.3" r="7.6"/><circle cx="1893.4" cy="397.9" r="7.6"/><circle cx="1901" cy="436.6" r="7.6"/><circle cx="1644.5" cy="494.8" r="7.6"/><circle cx="1780" cy="189.3" r="7.6"/><circle cx="1288.7" cy="441" r="7.6"/><circle cx="1287.6" cy="304" r="7.6"/><circle cx="1920.9" cy="212.9" r="7.6"/><circle cx="1285.1" cy="453.5" r="7.6"/><circle cx="1430.7" cy="513.2" r="7.6"/><circle cx="1437.3" cy="223.4" r="7.6"/><circle cx="1471.1" cy="541" r="7.6"/><circle cx="1279.2" cy="380.1" r="7.6"/><circle cx="1806.1" cy="447" r="7.6"/><circle cx="1898.9" cy="286.7" r="7.6"/><circle cx="1818.8" cy="197.8" r="7.6"/><circle cx="1832.2" cy="421.6" r="7.6"/><circle cx="1959.9" cy="317.6" r="7.6"/><circle cx="1492.7" cy="211.5" r="7.6"/><circle cx="1844" cy="433.9" r="7.6"/><circle cx="1336.9" cy="534.5" r="7.6"/><circle cx="1272" cy="478" r="7.6"/><circle cx="1800.2" cy="196.2" r="7.6"/><circle cx="1650.9" cy="501.9" r="7.6"/><circle cx="1577.9" cy="164.9" r="7.6"/><circle cx="1726.9" cy="166.1" r="7.6"/><circle cx="1340.1" cy="279.4" r="7.6"/><circle cx="1365.8" cy="517.9" r="7.6"/><circle cx="1278.3" cy="464" r="7.6"/><circle cx="1300.8" cy="497.4" r="7.6"/><circle cx="1881.7" cy="227" r="7.6"/><circle cx="1863.1" cy="215.3" r="7.6"/><circle cx="1800.3" cy="461.4" r="7.6"/><circle cx="1927.5" cy="393.7" r="7.6"/><circle cx="1498.1" cy="211.9" r="7.6"/><circle cx="1396" cy="519.6" r="7.6"/><circle cx="1344.2" cy="525.8" r="7.6"/><circle cx="1911.7" cy="356.7" r="7.6"/><circle cx="1469" cy="216.9" r="7.6"/><circle cx="1309.4" cy="486.9" r="7.6"/><circle cx="1912.5" cy="434.4" r="7.6"/><circle cx="1916.1" cy="352.3" r="7.6"/><circle cx="1278.9" cy="382.6" r="7.6"/><circle cx="1592.6" cy="188.3" r="7.6"/><circle cx="1814" cy="459.4" r="7.6"/><circle cx="1279.7" cy="360.3" r="7.6"/><circle cx="1930.5" cy="353.2" r="7.6"/><circle cx="1431.9" cy="509.6" r="7.6"/><circle cx="1700.6" cy="179.5" r="7.6"/><circle cx="1274.6" cy="361.5" r="7.6"/><circle cx="1873.8" cy="210.9" r="7.6"/><circle cx="1929.3" cy="325.8" r="7.6"/><circle cx="1399" cy="257.4" r="7.6"/><circle cx="1264" cy="335.2" r="7.6"/><circle cx="1783.4" cy="459.2" r="7.6"/><circle cx="1502.2" cy="200.2" r="7.6"/><circle cx="1620.9" cy="199.9" r="7.6"/><circle cx="1889.6" cy="415.9" r="7.6"/><circle cx="1736.9" cy="171.5" r="7.6"/><circle cx="1830.7" cy="421.9" r="7.6"/><circle cx="1532.2" cy="191.9" r="7.6"/><circle cx="1288.9" cy="414.9" r="7.6"/><circle cx="1809.9" cy="436" r="7.6"/><circle cx="1971.7" cy="424.6" r="7.6"/><circle cx="1403.7" cy="255.1" r="7.6"/><circle cx="1432.5" cy="540.5" r="7.6"/><circle cx="1286.2" cy="410.3" r="7.6"/><circle cx="1844.4" cy="183.6" r="7.6"/><circle cx="1484.1" cy="525.3" r="7.6"/><circle cx="1835.9" cy="204.5" r="7.6"/><circle cx="1441.4" cy="543.9" r="7.6"/><circle cx="1716.9" cy="476.9" r="7.6"/><circle cx="1262.4" cy="374.5" r="7.6"/><circle cx="1587.4" cy="517.5" r="7.6"/><circle cx="1486.9" cy="526.4" r="7.6"/><circle cx="1984.3" cy="395.7" r="7.6"/><circle cx="1561.7" cy="176.6" r="7.6"/><circle cx="1640.6" cy="178.6" r="7.6"/><circle cx="1278.7" cy="297.1" r="7.6"/><circle cx="1879.3" cy="402.6" r="7.6"/><circle cx="1631.5" cy="186.9" r="7.6"/><circle cx="1746.2" cy="178.6" r="7.6"/><circle cx="1391.8" cy="528.1" r="7.6"/><circle cx="1318.4" cy="279.6" r="7.6"/><circle cx="1812.3" cy="451.8" r="7.6"/><circle cx="1660.9" cy="188.7" r="7.6"/><circle cx="1487.2" cy="527" r="7.6"/><circle cx="1571.2" cy="551.6" r="7.6"/><circle cx="1286.2" cy="330.7" r="7.6"/><circle cx="1459.8" cy="219.2" r="7.6"/><circle cx="1277.7" cy="398.6" r="7.6"/><circle cx="1287.2" cy="299.3" r="7.6"/><circle cx="1776.2" cy="496.4" r="7.6"/><circle cx="1247.2" cy="301.2" r="7.6"/><circle cx="1940" cy="267" r="7.6"/><circle cx="1274.1" cy="413.9" r="7.6"/><circle cx="1898.1" cy="301.7" r="7.6"/><circle cx="1271.4" cy="379.8" r="7.6"/><circle cx="1297.3" cy="449.1" r="7.6"/><circle cx="1337.6" cy="533.7" r="7.6"/><circle cx="1907" cy="247.2" r="7.6"/><circle cx="1872.7" cy="233.5" r="7.6"/><circle cx="1328.7" cy="545.4" r="7.6"/><circle cx="1254.8" cy="397.2" r="7.6"/><circle cx="1465.4" cy="221.6" r="7.6"/><circle cx="1278.3" cy="331.9" r="7.6"/><circle cx="1421.3" cy="231.5" r="7.6"/><circle cx="1766.3" cy="183.2" r="7.6"/><circle cx="1849.6" cy="155.2" r="7.6"/><circle cx="1646.1" cy="498.9" r="7.6"/><circle cx="1637.8" cy="513.2" r="7.6"/><circle cx="1575.2" cy="515.5" r="7.6"/><circle cx="1757" cy="180.5" r="7.6"/><circle cx="1285" cy="450.7" r="7.6"/><circle cx="1724.3" cy="182.3" r="7.6"/><circle cx="1904.1" cy="418.5" r="7.6"/><circle cx="1606.8" cy="196.8" r="7.6"/><circle cx="1821.2" cy="458.1" r="7.6"/><circle cx="1543.4" cy="520.4" r="7.6"/><circle cx="1393.7" cy="531.4" r="7.6"/><circle cx="1804.1" cy="447.3" r="7.6"/><circle cx="1859.4" cy="198.2" r="7.6"/><circle cx="1246.3" cy="489.5" r="7.6"/><circle cx="1720.5" cy="476.7" r="7.6"/><circle cx="1896.3" cy="401.4" r="7.6"/><circle cx="1871.6" cy="414.5" r="7.6"/><circle cx="1922.3" cy="377.5" r="7.6"/><circle cx="1567.9" cy="516" r="7.6"/><circle cx="1309.4" cy="275.5" r="7.6"/><circle cx="1688.8" cy="487.4" r="7.6"/><circle cx="1469.4" cy="190.6" r="7.6"/><circle cx="1906" cy="320" r="7.6"/><circle cx="1375.7" cy="275.8" r="7.6"/><circle cx="1281.6" cy="400.2" r="7.6"/><circle cx="1301.5" cy="474.8" r="7.6"/><circle cx="1267.4" cy="471.3" r="7.6"/><circle cx="1941.8" cy="230.3" r="7.6"/><circle cx="1301.8" cy="537.1" r="7.6"/><circle cx="1277.5" cy="390.5" r="7.6"/><circle cx="1895.8" cy="295.7" r="7.6"/><circle cx="1361" cy="525.4" r="7.6"/><circle cx="1236.5" cy="460.5" r="7.6"/><circle cx="1608.4" cy="197.1" r="7.6"/><circle cx="1853" cy="418.1" r="7.6"/><circle cx="1777.3" cy="195.3" r="7.6"/><circle cx="1910" cy="232.7" r="7.6"/><circle cx="1487.2" cy="537.3" r="7.6"/><circle cx="1647.5" cy="526.4" r="7.6"/><circle cx="1401.1" cy="525.5" r="7.6"/><circle cx="1917.8" cy="268.7" r="7.6"/><circle cx="1447.9" cy="231.4" r="7.6"/><circle cx="1256.6" cy="446.5" r="7.6"/><circle cx="1289.8" cy="478" r="7.6"/><circle cx="1268.3" cy="478.1" r="7.6"/><circle cx="1360.9" cy="254.5" r="7.6"/><circle cx="1383" cy="520.1" r="7.6"/><circle cx="1235.7" cy="413.1" r="7.6"/><circle cx="1595.1" cy="519.2" r="7.6"/><circle cx="1982.9" cy="368.8" r="7.6"/><circle cx="1423.1" cy="517.6" r="7.6"/><circle cx="1743.5" cy="167.5" r="7.6"/><circle cx="1288.5" cy="418.3" r="7.6"/><circle cx="1424.4" cy="219.3" r="7.6"/><circle cx="1744.7" cy="138.7" r="7.6"/><circle cx="1454.1" cy="525.1" r="7.6"/><circle cx="1846.4" cy="174.9" r="7.6"/><circle cx="1730.3" cy="180.3" r="7.6"/><circle cx="1752.8" cy="153.8" r="7.6"/><circle cx="1579.3" cy="517.1" r="7.6"/><circle cx="1639.1" cy="503.6" r="7.6"/><circle cx="1906.4" cy="413.9" r="7.6"/><circle cx="1467.2" cy="220.2" r="7.6"/><circle cx="1800.8" cy="438.2" r="7.6"/><circle cx="1738.1" cy="180.6" r="7.6"/><circle cx="1523.2" cy="182.7" r="7.6"/><circle cx="1976.5" cy="227.1" r="7.6"/><circle cx="1748" cy="506.5" r="7.6"/><circle cx="1262.7" cy="362.5" r="7.6"/><circle cx="1918.6" cy="376.1" r="7.6"/><circle cx="1721" cy="477.3" r="7.6"/><circle cx="1257" cy="348.4" r="7.6"/><circle cx="1843.6" cy="177" r="7.6"/><circle cx="1875.2" cy="409.2" r="7.6"/><circle cx="1936.2" cy="328.9" r="7.6"/><circle cx="1721.8" cy="142" r="7.6"/><circle cx="1281.5" cy="330.9" r="7.6"/><circle cx="1376.5" cy="267" r="7.6"/><circle cx="1653.9" cy="188.8" r="7.6"/><circle cx="1548.8" cy="189.8" r="7.6"/><circle cx="1542.3" cy="189.1" r="7.6"/><circle cx="1499.1" cy="527.2" r="7.6"/><circle cx="1692.2" cy="183" r="7.6"/><circle cx="1309.4" cy="493.7" r="7.6"/><circle cx="1276.4" cy="383.8" r="7.6"/><circle cx="1811.8" cy="192.7" r="7.6"/><circle cx="1893.4" cy="213.3" r="7.6"/><circle cx="1414.2" cy="522.9" r="7.6"/><circle cx="1445.9" cy="538.3" r="7.6"/><circle cx="1406.2" cy="246.2" r="7.6"/><circle cx="1886.3" cy="184.7" r="7.6"/><circle cx="1517.9" cy="527.6" r="7.6"/><circle cx="1404.1" cy="513.6" r="7.6"/><circle cx="1657.2" cy="502.2" r="7.6"/><circle cx="1920.3" cy="302.7" r="7.6"/><circle cx="1522.5" cy="189.3" r="7.6"/><circle cx="1963.6" cy="284.6" r="7.6"/><circle cx="1866" cy="405.8" r="7.6"/><circle cx="1935.1" cy="269.2" r="7.6"/><circle cx="1525.9" cy="191.3" r="7.6"/><circle cx="1690.3" cy="490.6" r="7.6"/><circle cx="1913.9" cy="395.2" r="7.6"/><circle cx="1418.5" cy="512.1" r="7.6"/><circle cx="1269.5" cy="443" r="7.6"/><circle cx="1777.8" cy="467.6" r="7.6"/><circle cx="1855.5" cy="178.2" r="7.6"/><circle cx="1734.9" cy="186" r="7.6"/><circle cx="1895.7" cy="234.6" r="7.6"/><circle cx="1451.4" cy="227.3" r="7.6"/><circle cx="1302.8" cy="484.4" r="7.6"/><circle cx="1968" cy="242.4" r="7.6"/><circle cx="1269.4" cy="496.6" r="7.6"/><circle cx="1436.9" cy="527.3" r="7.6"/><circle cx="1872.2" cy="395.3" r="7.6"/><circle cx="1880.4" cy="231.6" r="7.6"/><circle cx="1903.2" cy="342.3" r="7.6"/><circle cx="1895.8" cy="414" r="7.6"/><circle cx="1673.5" cy="187.3" r="7.6"/><circle cx="1249" cy="402.5" r="7.6"/><circle cx="1695.1" cy="190.4" r="7.6"/><circle cx="1609.9" cy="199.9" r="7.6"/><circle cx="1857.5" cy="183.9" r="7.6"/><circle cx="1288.8" cy="302.8" r="7.6"/><circle cx="1696.5" cy="479.9" r="7.6"/><circle cx="1498.6" cy="530.7" r="7.6"/><circle cx="1795.6" cy="466.4" r="7.6"/><circle cx="1278.2" cy="409.7" r="7.6"/><circle cx="1524.8" cy="522.1" r="7.6"/><circle cx="1645" cy="165.2" r="7.6"/><circle cx="1891.5" cy="387.5" r="7.6"/><circle cx="1528.9" cy="532.5" r="7.6"/><circle cx="1889.3" cy="401.3" r="7.6"/><circle cx="1261.7" cy="437.7" r="7.6"/><circle cx="1418.5" cy="255.7" r="7.6"/><circle cx="1624.9" cy="517.7" r="7.6"/><circle cx="1674.4" cy="171.1" r="7.6"/><circle cx="1532.8" cy="524" r="7.6"/><circle cx="1341" cy="524.9" r="7.6"/><circle cx="1864.4" cy="435.2" r="7.6"/><circle cx="1743.9" cy="191.4" r="7.6"/><circle cx="1745.3" cy="474.4" r="7.6"/><circle cx="1764.8" cy="463.7" r="7.6"/><circle cx="1351.8" cy="530.7" r="7.6"/><circle cx="1891.1" cy="227.6" r="7.6"/><circle cx="1639.4" cy="498.8" r="7.6"/><circle cx="1912.5" cy="325.1" r="7.6"/><circle cx="1425.4" cy="526.1" r="7.6"/><circle cx="1728.1" cy="470.9" r="7.6"/><circle cx="1288.2" cy="479.9" r="7.6"/><circle cx="1826.2" cy="422.8" r="7.6"/><circle cx="1481.9" cy="532.6" r="7.6"/><circle cx="1702.7" cy="486.6" r="7.6"/><circle cx="1723.3" cy="179.3" r="7.6"/><circle cx="1373.6" cy="530.6" r="7.6"/><circle cx="1267.4" cy="279.4" r="7.6"/><circle cx="1606.5" cy="519.9" r="7.6"/><circle cx="1886.6" cy="390.3" r="7.6"/><circle cx="1407.4" cy="243.9" r="7.6"/><circle cx="1253.1" cy="486.1" r="7.6"/><circle cx="1361.9" cy="566.6" r="7.6"/><circle cx="1949.5" cy="402.7" r="7.6"/><circle cx="1293.7" cy="451.9" r="7.6"/><circle cx="1941.2" cy="370.3" r="7.6"/><circle cx="1431" cy="237.9" r="7.6"/><circle cx="1372.4" cy="269.3" r="7.6"/><circle cx="1557.8" cy="516" r="7.6"/><circle cx="1447.4" cy="223.9" r="7.6"/><circle cx="1897.9" cy="357.9" r="7.6"/><circle cx="1755.1" cy="186.7" r="7.6"/><circle cx="1382.6" cy="540" r="7.6"/><circle cx="1909.5" cy="324" r="7.6"/><circle cx="1431.7" cy="193.9" r="7.6"/><circle cx="1572.1" cy="517" r="7.6"/><circle cx="1437.8" cy="530.6" r="7.6"/><circle cx="1530.7" cy="521" r="7.6"/><circle cx="1821.6" cy="147.9" r="7.6"/><circle cx="1832.9" cy="446.8" r="7.6"/><circle cx="1457.6" cy="186.9" r="7.6"/><circle cx="1897.5" cy="329.2" r="7.6"/><circle cx="1808.6" cy="165" r="7.6"/><circle cx="1987.3" cy="281.2" r="7.6"/><circle cx="1538.2" cy="531.6" r="7.6"/><circle cx="1309.7" cy="485.4" r="7.6"/><circle cx="1896.8" cy="323.1" r="7.6"/><circle cx="1590.3" cy="516.7" r="7.6"/><circle cx="1243.5" cy="324.2" r="7.6"/><circle cx="1278.1" cy="435.6" r="7.6"/><circle cx="1263" cy="355.9" r="7.6"/><circle cx="1848.1" cy="414.9" r="7.6"/><circle cx="1427.8" cy="516.5" r="7.6"/><circle cx="1279.9" cy="365.8" r="7.6"/><circle cx="1244.9" cy="362.6" r="7.6"/><circle cx="1646.9" cy="514.1" r="7.6"/><circle cx="1903.1" cy="325.4" r="7.6"/><circle cx="1800.7" cy="470.1" r="7.6"/><circle cx="1872.6" cy="395.1" r="7.6"/><circle cx="1433.3" cy="526.5" r="7.6"/><circle cx="1640.2" cy="197" r="7.6"/><circle cx="1929.2" cy="300.8" r="7.6"/><circle cx="1897.2" cy="408.5" r="7.6"/><circle cx="1364.3" cy="266.2" r="7.6"/><circle cx="1453.7" cy="215.5" r="7.6"/><circle cx="1393.9" cy="258.2" r="7.6"/><circle cx="1902.6" cy="260.4" r="7.6"/><circle cx="1641.4" cy="497.3" r="7.6"/><circle cx="1900.9" cy="354" r="7.6"/><circle cx="1698.7" cy="175" r="7.6"/><circle cx="1633.3" cy="500.8" r="7.6"/><circle cx="1668.6" cy="194.1" r="7.6"/><circle cx="1602.2" cy="511.2" r="7.6"/><circle cx="1285" cy="318.3" r="7.6"/><circle cx="1450.4" cy="213.6" r="7.6"/><circle cx="1894.5" cy="236.9" r="7.6"/><circle cx="1575.9" cy="535.5" r="7.6"/><circle cx="1705.3" cy="182.8" r="7.6"/><circle cx="1667.8" cy="495.9" r="7.6"/><circle cx="1975.9" cy="414.9" r="7.6"/><circle cx="1561.8" cy="514.5" r="7.6"/><circle cx="1900.3" cy="344.1" r="7.6"/><circle cx="1873.6" cy="220.4" r="7.6"/><circle cx="1845.7" cy="426.8" r="7.6"/><circle cx="1472" cy="527.2" r="7.6"/><circle cx="1776.4" cy="468.6" r="7.6"/><circle cx="1778.9" cy="162.9" r="7.6"/><circle cx="1852.1" cy="416.6" r="7.6"/><circle cx="1982" cy="298.2" r="7.6"/><circle cx="1557.1" cy="525.4" r="7.6"/><circle cx="1749.2" cy="180.3" r="7.6"/><circle cx="1547.4" cy="523.8" r="7.6"/><circle cx="1395.3" cy="267.5" r="7.6"/><circle cx="1950.7" cy="305.6" r="7.6"/><circle cx="1901.5" cy="379.5" r="7.6"/><circle cx="1709.1" cy="477.7" r="7.6"/><circle cx="1282.9" cy="293.3" r="7.6"/><circle cx="1925.6" cy="257.6" r="7.6"/><circle cx="1851" cy="416.1" r="7.6"/><circle cx="1785.2" cy="452.3" r="7.6"/><circle cx="1618.5" cy="183.3" r="7.6"/><circle cx="1882.6" cy="395.6" r="7.6"/><circle cx="1891.4" cy="200.5" r="7.6"/><circle cx="1847.8" cy="208.4" r="7.6"/><circle cx="1413.9" cy="522.8" r="7.6"/><circle cx="1908.1" cy="350.8" r="7.6"/><circle cx="1640.8" cy="187.7" r="7.6"/><circle cx="1865.5" cy="201" r="7.6"/><circle cx="1915.4" cy="346" r="7.6"/><circle cx="1607.6" cy="181.2" r="7.6"/><circle cx="1314.4" cy="492" r="7.6"/><circle cx="1878.2" cy="163.9" r="7.6"/><circle cx="1272" cy="417.4" r="7.6"/><circle cx="1934.2" cy="262.9" r="7.6"/><circle cx="1909.7" cy="284.9" r="7.6"/><circle cx="1343.3" cy="523.4" r="7.6"/><circle cx="1801.4" cy="452.7" r="7.6"/><circle cx="1334.4" cy="508.5" r="7.6"/><circle cx="1277" cy="381.8" r="7.6"/><circle cx="1273.1" cy="339.1" r="7.6"/><circle cx="1544.3" cy="158.7" r="7.6"/><circle cx="1881.9" cy="407.2" r="7.6"/><circle cx="1542.1" cy="517.5" r="7.6"/><circle cx="1520.7" cy="178.7" r="7.6"/><circle cx="1453" cy="220.6" r="7.6"/><circle cx="1695.4" cy="481.6" r="7.6"/><circle cx="1238.6" cy="399.4" r="7.6"/><circle cx="1275.3" cy="349.7" r="7.6"/><circle cx="1979.4" cy="408.1" r="7.6"/><circle cx="1842.7" cy="425.6" r="7.6"/><circle cx="1903.7" cy="362.5" r="7.6"/><circle cx="1573" cy="187.1" r="7.6"/><circle cx="1880.2" cy="394" r="7.6"/><circle cx="1326.3" cy="278.2" r="7.6"/><circle cx="1301.7" cy="475.3" r="7.6"/><circle cx="1842.1" cy="426.9" r="7.6"/><circle cx="1296.2" cy="450.7" r="7.6"/><circle cx="1494" cy="525.2" r="7.6"/><circle cx="1288.3" cy="482" r="7.6"/><circle cx="1273.5" cy="463.9" r="7.6"/><circle cx="1873.6" cy="233.5" r="7.6"/><circle cx="1922.8" cy="359.6" r="7.6"/><circle cx="1516.9" cy="560.2" r="7.6"/><circle cx="1470.2" cy="207.3" r="7.6"/><circle cx="1352.8" cy="507.8" r="7.6"/><circle cx="1521.8" cy="526.1" r="7.6"/><circle cx="1418" cy="534.1" r="7.6"/><circle cx="1850.2" cy="462.6" r="7.6"/><circle cx="1330.1" cy="504.3" r="7.6"/><circle cx="1299.8" cy="465.6" r="7.6"/><circle cx="1550.1" cy="539.9" r="7.6"/><circle cx="1810.5" cy="178.2" r="7.6"/><circle cx="1488.9" cy="205.1" r="7.6"/><circle cx="1777.9" cy="159.1" r="7.6"/><circle cx="1864.3" cy="228.6" r="7.6"/><circle cx="1931" cy="320.3" r="7.6"/><circle cx="1296.2" cy="469.1" r="7.6"/><circle cx="1322.8" cy="495.4" r="7.6"/><circle cx="1589.2" cy="196.1" r="7.6"/><circle cx="1422" cy="513.9" r="7.6"/><circle cx="1317" cy="495.1" r="7.6"/><circle cx="1905.6" cy="316.3" r="7.6"/><circle cx="1279.3" cy="386" r="7.6"/><circle cx="1280.9" cy="333.6" r="7.6"/><circle cx="1580.3" cy="195.6" r="7.6"/><circle cx="1575.3" cy="187.3" r="7.6"/><circle cx="1290.3" cy="452.5" r="7.6"/><circle cx="1908.1" cy="374.2" r="7.6"/><circle cx="1499.6" cy="525.1" r="7.6"/><circle cx="1617.2" cy="194.9" r="7.6"/><circle cx="1696.3" cy="493.2" r="7.6"/><circle cx="1931.8" cy="337.8" r="7.6"/><circle cx="1871" cy="428.5" r="7.6"/><circle cx="1574.2" cy="520.6" r="7.6"/><circle cx="1274.6" cy="356.8" r="7.6"/><circle cx="1279.1" cy="281.3" r="7.6"/><circle cx="1906.3" cy="244" r="7.6"/><circle cx="1515.6" cy="548" r="7.6"/><circle cx="1485.9" cy="541.1" r="7.6"/><circle cx="1656.1" cy="491.6" r="7.6"/><circle cx="1254.8" cy="391.8" r="7.6"/><circle cx="1279.1" cy="374.2" r="7.6"/><circle cx="1490" cy="537.5" r="7.6"/><circle cx="1934" cy="316" r="7.6"/><circle cx="1598.4" cy="513" r="7.6"/><circle cx="1782.8" cy="187.8" r="7.6"/><circle cx="1706.8" cy="487.5" r="7.6"/><circle cx="1265.6" cy="498" r="7.6"/><circle cx="1715" cy="475" r="7.6"/><circle cx="1761.7" cy="183.6" r="7.6"/><circle cx="1514.8" cy="524.2" r="7.6"/><circle cx="1696" cy="153.9" r="7.6"/><circle cx="1348.2" cy="271.5" r="7.6"/><circle cx="1577.1" cy="514.2" r="7.6"/><circle cx="1720.8" cy="500.4" r="7.6"/><circle cx="1845.7" cy="201.4" r="7.6"/><circle cx="1288.4" cy="421.1" r="7.6"/><circle cx="1886.1" cy="258.9" r="7.6"/><circle cx="1782" cy="151.7" r="7.6"/><circle cx="1271.9" cy="456" r="7.6"/><circle cx="1730.4" cy="183.4" r="7.6"/><circle cx="1498.4" cy="537.3" r="7.6"/><circle cx="1771.7" cy="178.3" r="7.6"/><circle cx="1284.3" cy="503.4" r="7.6"/><circle cx="1485.5" cy="526.3" r="7.6"/><circle cx="1949.9" cy="377.5" r="7.6"/><circle cx="1405.7" cy="540.4" r="7.6"/><circle cx="1271.3" cy="361.6" r="7.6"/><circle cx="1898.5" cy="349.8" r="7.6"/><circle cx="1944.8" cy="193.2" r="7.6"/><circle cx="1769.8" cy="484" r="7.6"/><circle cx="1362.1" cy="511.4" r="7.6"/><circle cx="1916.1" cy="239.9" r="7.6"/><circle cx="1538.2" cy="204.7" r="7.6"/><circle cx="1277.9" cy="415.3" r="7.6"/><circle cx="1233.9" cy="444.5" r="7.6"/><circle cx="1770.7" cy="193.9" r="7.6"/><circle cx="1759.3" cy="490.6" r="7.6"/><circle cx="1572.7" cy="518.6" r="7.6"/><circle cx="1301.1" cy="482.2" r="7.6"/><circle cx="1829.9" cy="456.9" r="7.6"/><circle cx="1381.7" cy="524.3" r="7.6"/><circle cx="1281.3" cy="428.9" r="7.6"/><circle cx="1861" cy="186.1" r="7.6"/><circle cx="1886.8" cy="387.4" r="7.6"/><circle cx="1410.5" cy="519.2" r="7.6"/><circle cx="1923.6" cy="323.4" r="7.6"/><circle cx="1917.7" cy="356.6" r="7.6"/><circle cx="1916.1" cy="297.2" r="7.6"/><circle cx="1921.5" cy="382.7" r="7.6"/><circle cx="1838.3" cy="208.7" r="7.6"/><circle cx="1249.9" cy="396.2" r="7.6"/><circle cx="1559" cy="196.2" r="7.6"/><circle cx="1418" cy="525" r="7.6"/><circle cx="1415.5" cy="526.2" r="7.6"/><circle cx="1262.5" cy="311.7" r="7.6"/><circle cx="1278.9" cy="439" r="7.6"/><circle cx="1385.3" cy="261.8" r="7.6"/><circle cx="1394.4" cy="265.9" r="7.6"/><circle cx="1306.5" cy="256.8" r="7.6"/><circle cx="1292" cy="428.2" r="7.6"/><circle cx="1800.6" cy="164.1" r="7.6"/><circle cx="1858.4" cy="459.9" r="7.6"/><circle cx="1865.1" cy="183.9" r="7.6"/><circle cx="1653.5" cy="491.4" r="7.6"/><circle cx="1948.9" cy="285.7" r="7.6"/><circle cx="1523.7" cy="543.4" r="7.6"/><circle cx="1844.3" cy="423.2" r="7.6"/><circle cx="1897.9" cy="314.8" r="7.6"/><circle cx="1919.6" cy="396.9" r="7.6"/><circle cx="1624.2" cy="500.6" r="7.6"/><circle cx="1467.2" cy="208.6" r="7.6"/><circle cx="1281.1" cy="313.2" r="7.6"/><circle cx="1861.6" cy="437.5" r="7.6"/><circle cx="1351.6" cy="260" r="7.6"/><circle cx="1871.6" cy="216.6" r="7.6"/><circle cx="1924.1" cy="309.5" r="7.6"/><circle cx="1912" cy="342.9" r="7.6"/><circle cx="1377.7" cy="535.1" r="7.6"/><circle cx="1368.7" cy="525.4" r="7.6"/><circle cx="1547.2" cy="528.7" r="7.6"/><circle cx="1280.9" cy="393.5" r="7.6"/><circle cx="1301.2" cy="485" r="7.6"/><circle cx="1930.1" cy="366.9" r="7.6"/><circle cx="1365.5" cy="514.5" r="7.6"/><circle cx="1631.2" cy="191.6" r="7.6"/><circle cx="1927.2" cy="432.3" r="7.6"/><circle cx="1921.2" cy="299.1" r="7.6"/><circle cx="1442.3" cy="525.6" r="7.6"/><circle cx="1674.6" cy="144.3" r="7.6"/><circle cx="1767.6" cy="462.9" r="7.6"/><circle cx="1715.1" cy="474.1" r="7.6"/><circle cx="1780" cy="457" r="7.6"/><circle cx="1444" cy="231.5" r="7.6"/><circle cx="1821.2" cy="199.1" r="7.6"/><circle cx="1870.4" cy="202" r="7.6"/><circle cx="1354.9" cy="520.7" r="7.6"/><circle cx="1929.4" cy="329.8" r="7.6"/><circle cx="1794.7" cy="179.4" r="7.6"/><circle cx="1756.5" cy="475.9" r="7.6"/><circle cx="1912.2" cy="268.1" r="7.6"/><circle cx="1797.4" cy="453.9" r="7.6"/><circle cx="1349.5" cy="265.6" r="7.6"/><circle cx="1725.2" cy="480.7" r="7.6"/><circle cx="1293.6" cy="478.5" r="7.6"/><circle cx="1880.6" cy="229" r="7.6"/><circle cx="1524.5" cy="201.2" r="7.6"/><circle cx="1513.7" cy="540.7" r="7.6"/><circle cx="1356.9" cy="518.5" r="7.6"/><circle cx="1364.8" cy="272.1" r="7.6"/><circle cx="1677.2" cy="486.2" r="7.6"/><circle cx="1930.9" cy="358.4" r="7.6"/><circle cx="1925.7" cy="340.9" r="7.6"/><circle cx="1282.9" cy="416" r="7.6"/><circle cx="1476.3" cy="179" r="7.6"/><circle cx="1460.2" cy="528.5" r="7.6"/><circle cx="1269.6" cy="274.3" r="7.6"/><circle cx="1934.2" cy="253.9" r="7.6"/><circle cx="1421.2" cy="228.3" r="7.6"/><circle cx="1401.7" cy="255.7" r="7.6"/><circle cx="1640" cy="532.4" r="7.6"/><circle cx="1408.9" cy="533" r="7.6"/><circle cx="1608" cy="530.9" r="7.6"/><circle cx="1906.5" cy="469.6" r="7.6"/><circle cx="1263.3" cy="409.2" r="7.6"/><circle cx="1278.4" cy="275.6" r="7.6"/><circle cx="1876.2" cy="213" r="7.6"/><circle cx="1622.9" cy="505.9" r="7.6"/><circle cx="1744" cy="153.6" r="7.6"/><circle cx="1897" cy="358.4" r="7.6"/><circle cx="1783.2" cy="486.8" r="7.6"/><circle cx="1722.7" cy="482.9" r="7.6"/><circle cx="1912.7" cy="318.4" r="7.6"/><circle cx="1913.3" cy="318.6" r="7.6"/><circle cx="1288.9" cy="274.2" r="7.6"/><circle cx="1649.5" cy="192.9" r="7.6"/><circle cx="1912.4" cy="264.6" r="7.6"/><circle cx="1901.6" cy="292.6" r="7.6"/><circle cx="1929.6" cy="399.5" r="7.6"/><circle cx="1742.1" cy="182.4" r="7.6"/><circle cx="1597.4" cy="519.7" r="7.6"/><circle cx="1630.5" cy="196" r="7.6"/><circle cx="1740.7" cy="174.5" r="7.6"/><circle cx="1747.9" cy="475.1" r="7.6"/><circle cx="1277.2" cy="498.9" r="7.6"/><circle cx="1657.5" cy="186.1" r="7.6"/><circle cx="1759.3" cy="518.5" r="7.6"/><circle cx="1426.6" cy="240.9" r="7.6"/><circle cx="1271.1" cy="426.1" r="7.6"/><circle cx="1869.5" cy="201.5" r="7.6"/><circle cx="1880.4" cy="395.9" r="7.6"/><circle cx="1830" cy="203.6" r="7.6"/><circle cx="1242.6" cy="321.8" r="7.6"/><circle cx="1381.2" cy="546.6" r="7.6"/><circle cx="1951.3" cy="330.1" r="7.6"/><circle cx="1763.2" cy="179.8" r="7.6"/><circle cx="1940.8" cy="223.1" r="7.6"/><circle cx="1884" cy="441.4" r="7.6"/><circle cx="1399.3" cy="243.7" r="7.6"/><circle cx="1857.8" cy="430.4" r="7.6"/><circle cx="1833.3" cy="417.6" r="7.6"/><circle cx="1870.7" cy="217.1" r="7.6"/><circle cx="1271.4" cy="390.5" r="7.6"/><circle cx="1931.8" cy="367.7" r="7.6"/><circle cx="1805" cy="192.9" r="7.6"/><circle cx="1880.3" cy="429.6" r="7.6"/><circle cx="1340.4" cy="509.5" r="7.6"/><circle cx="1720.6" cy="144.8" r="7.6"/><circle cx="1717.1" cy="482.1" r="7.6"/><circle cx="1361.7" cy="518.1" r="7.6"/><circle cx="1968.9" cy="323.1" r="7.6"/><circle cx="1577.2" cy="514.1" r="7.6"/><circle cx="1824" cy="450.9" r="7.6"/><circle cx="1556.2" cy="523.8" r="7.6"/><circle cx="1954.9" cy="357.8" r="7.6"/><circle cx="1532" cy="193" r="7.6"/><circle cx="1837.9" cy="184.2" r="7.6"/><circle cx="1365.1" cy="569.4" r="7.6"/><circle cx="1855.8" cy="176.1" r="7.6"/><circle cx="1905.2" cy="281.4" r="7.6"/><circle cx="1532.7" cy="522.3" r="7.6"/><circle cx="1920.9" cy="392" r="7.6"/><circle cx="1817.3" cy="453.1" r="7.6"/><circle cx="1289.6" cy="501.9" r="7.6"/><circle cx="1273" cy="287.9" r="7.6"/><circle cx="1612.3" cy="175.6" r="7.6"/><circle cx="1815.7" cy="189.1" r="7.6"/><circle cx="1467" cy="214.3" r="7.6"/><circle cx="1432" cy="524.6" r="7.6"/><circle cx="1421.9" cy="511.5" r="7.6"/><circle cx="1494.7" cy="528.3" r="7.6"/><circle cx="1683" cy="189.3" r="7.6"/><circle cx="1968.1" cy="380.2" r="7.6"/><circle cx="1793.2" cy="450.4" r="7.6"/><circle cx="1461.9" cy="534.2" r="7.6"/><circle cx="1442.5" cy="515.2" r="7.6"/><circle cx="1414.8" cy="545.9" r="7.6"/><circle cx="1480.8" cy="198.6" r="7.6"/><circle cx="1696.4" cy="481.5" r="7.6"/><circle cx="1750.5" cy="476.6" r="7.6"/><circle cx="1317.4" cy="516.2" r="7.6"/><circle cx="1889.9" cy="401.7" r="7.6"/><circle cx="1470.2" cy="532.7" r="7.6"/><circle cx="1584.8" cy="522.8" r="7.6"/><circle cx="1503" cy="556.6" r="7.6"/><circle cx="1319.8" cy="498.4" r="7.6"/><circle cx="1581.4" cy="532.2" r="7.6"/><circle cx="1739.1" cy="476.4" r="7.6"/><circle cx="1696.2" cy="503.4" r="7.6"/><circle cx="1930.6" cy="322.5" r="7.6"/><circle cx="1734.5" cy="172.2" r="7.6"/><circle cx="1606.8" cy="169" r="7.6"/><circle cx="1872.8" cy="167.7" r="7.6"/><circle cx="1850.7" cy="424.6" r="7.6"/><circle cx="1794.7" cy="455.1" r="7.6"/><circle cx="1285.2" cy="388.7" r="7.6"/><circle cx="1699.8" cy="479.9" r="7.6"/><circle cx="1699.7" cy="158" r="7.6"/><circle cx="1796.5" cy="181.3" r="7.6"/><circle cx="1784.2" cy="461.7" r="7.6"/><circle cx="1316.9" cy="503.2" r="7.6"/><circle cx="1443.7" cy="518.5" r="7.6"/><circle cx="1522.7" cy="526.6" r="7.6"/><circle cx="1440.6" cy="517.4" r="7.6"/><circle cx="1245.7" cy="380.1" r="7.6"/><circle cx="1857.5" cy="410.9" r="7.6"/><circle cx="1849.7" cy="444.6" r="7.6"/><circle cx="1420.4" cy="528" r="7.6"/><circle cx="1576.2" cy="200.6" r="7.6"/><circle cx="1648.8" cy="177" r="7.6"/><circle cx="1862.5" cy="221.9" r="7.6"/><circle cx="1711.5" cy="479.7" r="7.6"/><circle cx="1400.9" cy="528" r="7.6"/><circle cx="1706.8" cy="487.1" r="7.6"/><circle cx="1282.4" cy="385.3" r="7.6"/><circle cx="1775.1" cy="459.5" r="7.6"/><circle cx="1838.1" cy="175.1" r="7.6"/><circle cx="1377.8" cy="525" r="7.6"/><circle cx="1559.4" cy="196.6" r="7.6"/><circle cx="1909.2" cy="324.2" r="7.6"/><circle cx="1314.8" cy="547.7" r="7.6"/><circle cx="1492.8" cy="188.7" r="7.6"/><circle cx="1718.6" cy="189" r="7.6"/><circle cx="1898.4" cy="413" r="7.6"/><circle cx="1505" cy="523.8" r="7.6"/><circle cx="1833.2" cy="453.7" r="7.6"/><circle cx="1255.8" cy="526.7" r="7.6"/><circle cx="1879.3" cy="407.3" r="7.6"/><circle cx="1700.6" cy="179.1" r="7.6"/><circle cx="1556.2" cy="187" r="7.6"/><circle cx="1276.9" cy="309.3" r="7.6"/><circle cx="1837.5" cy="205.3" r="7.6"/><circle cx="1921.8" cy="414.2" r="7.6"/><circle cx="1267.5" cy="379.1" r="7.6"/><circle cx="1420.2" cy="521.6" r="7.6"/><circle cx="1922" cy="305.8" r="7.6"/><circle cx="1286.8" cy="438.8" r="7.6"/><circle cx="1794.5" cy="464" r="7.6"/><circle cx="1399.8" cy="518.3" r="7.6"/><circle cx="1784.7" cy="191.7" r="7.6"/><circle cx="1349.1" cy="516.5" r="7.6"/><circle cx="1677.9" cy="149.5" r="7.6"/><circle cx="1533.6" cy="185.3" r="7.6"/><circle cx="1271.6" cy="357.1" r="7.6"/><circle cx="1271.1" cy="335.1" r="7.6"/><circle cx="1399.1" cy="255.8" r="7.6"/><circle cx="1768.6" cy="171.7" r="7.6"/><circle cx="1833.5" cy="204.9" r="7.6"/><circle cx="1682.1" cy="175.1" r="7.6"/><circle cx="1838" cy="193.6" r="7.6"/><circle cx="1654" cy="194.8" r="7.6"/><circle cx="1874.8" cy="231" r="7.6"/><circle cx="1858.2" cy="209.3" r="7.6"/><circle cx="1946.3" cy="275.8" r="7.6"/><circle cx="1280.3" cy="401.2" r="7.6"/><circle cx="1825.6" cy="468" r="7.6"/><circle cx="1575.9" cy="517.9" r="7.6"/><circle cx="1910.4" cy="396" r="7.6"/><circle cx="1653.8" cy="189" r="7.6"/><circle cx="1382.8" cy="274" r="7.6"/><circle cx="1242.9" cy="401.4" r="7.6"/><circle cx="1499.9" cy="204.5" r="7.6"/><circle cx="1857.8" cy="222.3" r="7.6"/><circle cx="1360.3" cy="518.7" r="7.6"/><circle cx="1491" cy="202.2" r="7.6"/><circle cx="1853.9" cy="218.1" r="7.6"/><circle cx="1837.1" cy="200.9" r="7.6"/><circle cx="1521.9" cy="560.1" r="7.6"/><circle cx="1917.5" cy="338.6" r="7.6"/><circle cx="1934.3" cy="365.8" r="7.6"/><circle cx="1305.3" cy="485.9" r="7.6"/><circle cx="1875.4" cy="216.4" r="7.6"/><circle cx="1780.5" cy="490.3" r="7.6"/><circle cx="1860" cy="214.6" r="7.6"/><circle cx="1291" cy="504.9" r="7.6"/><circle cx="1904" cy="241.9" r="7.6"/><circle cx="1663.4" cy="498.7" r="7.6"/><circle cx="1384.7" cy="519" r="7.6"/><circle cx="1555" cy="195.1" r="7.6"/><circle cx="1282.7" cy="387.9" r="7.6"/><circle cx="1626.5" cy="193.7" r="7.6"/><circle cx="1875.6" cy="426.8" r="7.6"/><circle cx="1908" cy="215.8" r="7.6"/><circle cx="1431.9" cy="538.5" r="7.6"/><circle cx="1641.8" cy="509.6" r="7.6"/><circle cx="1397.4" cy="520.5" r="7.6"/><circle cx="1618" cy="196.5" r="7.6"/><circle cx="1894.3" cy="259.7" r="7.6"/><circle cx="1848.6" cy="409" r="7.6"/><circle cx="1393.1" cy="274.2" r="7.6"/><circle cx="1697.1" cy="478.7" r="7.6"/><circle cx="1721.8" cy="178.6" r="7.6"/><circle cx="1791.7" cy="503.3" r="7.6"/><circle cx="1492" cy="536.1" r="7.6"/><circle cx="1897.4" cy="351.3" r="7.6"/><circle cx="1910.2" cy="315.7" r="7.6"/><circle cx="1553.6" cy="179.1" r="7.6"/><circle cx="1802.1" cy="450.8" r="7.6"/><circle cx="1897.3" cy="303.5" r="7.6"/><circle cx="1777.7" cy="466.1" r="7.6"/><circle cx="1956.9" cy="282.1" r="7.6"/><circle cx="1320" cy="510.5" r="7.6"/><circle cx="1716.6" cy="191.3" r="7.6"/><circle cx="1505.6" cy="203.4" r="7.6"/><circle cx="1797.6" cy="191.9" r="7.6"/><circle cx="1956.8" cy="310.7" r="7.6"/><circle cx="1874.5" cy="391.7" r="7.6"/><circle cx="1883.3" cy="211.8" r="7.6"/><circle cx="1628.9" cy="502.9" r="7.6"/><circle cx="1281.3" cy="304.7" r="7.6"/><circle cx="1862" cy="205.2" r="7.6"/><circle cx="1694.4" cy="482" r="7.6"/><circle cx="1896.9" cy="371.8" r="7.6"/><circle cx="1353.1" cy="536" r="7.6"/><circle cx="1246.9" cy="360.3" r="7.6"/><circle cx="1743.1" cy="187.9" r="7.6"/><circle cx="1475.5" cy="215.7" r="7.6"/><circle cx="1938.1" cy="248.2" r="7.6"/><circle cx="1530.2" cy="198.3" r="7.6"/><circle cx="1626.4" cy="179.5" r="7.6"/><circle cx="1824.8" cy="445.8" r="7.6"/><circle cx="1327.9" cy="522.8" r="7.6"/><circle cx="1292.9" cy="546.3" r="7.6"/><circle cx="1398" cy="528.3" r="7.6"/><circle cx="1729" cy="173.3" r="7.6"/><circle cx="1778.3" cy="469.9" r="7.6"/><circle cx="1571.2" cy="528.1" r="7.6"/><circle cx="1580.3" cy="199.5" r="7.6"/><circle cx="1539.4" cy="201.2" r="7.6"/><circle cx="1954.7" cy="279" r="7.6"/><circle cx="1764.6" cy="189.5" r="7.6"/><circle cx="1892.2" cy="287.8" r="7.6"/><circle cx="1777" cy="193.2" r="7.6"/><circle cx="1584.3" cy="183.5" r="7.6"/><circle cx="1974.5" cy="384.1" r="7.6"/><circle cx="1485.8" cy="549.4" r="7.6"/><circle cx="1482" cy="212.6" r="7.6"/><circle cx="1273.8" cy="380.3" r="7.6"/><circle cx="1442.9" cy="519.2" r="7.6"/><circle cx="1523.8" cy="176.1" r="7.6"/><circle cx="1912" cy="319.7" r="7.6"/><circle cx="1297.1" cy="281.5" r="7.6"/><circle cx="1279.8" cy="316.5" r="7.6"/><circle cx="1470.2" cy="531.3" r="7.6"/><circle cx="1408.9" cy="255.2" r="7.6"/><circle cx="1271.3" cy="423.9" r="7.6"/><circle cx="1872.4" cy="408.1" r="7.6"/><circle cx="1952.8" cy="237.4" r="7.6"/><circle cx="1880.1" cy="213.7" r="7.6"/><circle cx="1416.2" cy="244.9" r="7.6"/><circle cx="1409.8" cy="561.5" r="7.6"/><circle cx="1407.3" cy="568.5" r="7.6"/><circle cx="1943.6" cy="226.7" r="7.6"/><circle cx="1376.2" cy="261.3" r="7.6"/><circle cx="1926.9" cy="324.7" r="7.6"/><circle cx="1910.9" cy="343.9" r="7.6"/><circle cx="1907.1" cy="262.1" r="7.6"/><circle cx="1370.3" cy="567.6" r="7.6"/><circle cx="1586.3" cy="196.9" r="7.6"/><circle cx="1388.4" cy="257.9" r="7.6"/><circle cx="1364.2" cy="264.1" r="7.6"/><circle cx="1803.3" cy="185.1" r="7.6"/><circle cx="1426.8" cy="542.5" r="7.6"/><circle cx="1486" cy="527.7" r="7.6"/><circle cx="1784.7" cy="162.5" r="7.6"/><circle cx="1505.7" cy="199.7" r="7.6"/><circle cx="1278.5" cy="377" r="7.6"/><circle cx="1370.5" cy="530.9" r="7.6"/><circle cx="1367.3" cy="524.8" r="7.6"/><circle cx="1870" cy="226" r="7.6"/><circle cx="1833.1" cy="427.1" r="7.6"/><circle cx="1777.9" cy="186.9" r="7.6"/><circle cx="1281.3" cy="409.5" r="7.6"/><circle cx="1902.7" cy="259" r="7.6"/><circle cx="1359.4" cy="514.6" r="7.6"/><circle cx="1485.3" cy="183.2" r="7.6"/><circle cx="1268.4" cy="373.2" r="7.6"/><circle cx="1865.7" cy="409.4" r="7.6"/><circle cx="1302.1" cy="483.9" r="7.6"/><circle cx="1541.8" cy="522" r="7.6"/><circle cx="1863.9" cy="225.5" r="7.6"/><circle cx="1649.9" cy="195.9" r="7.6"/><circle cx="1790.8" cy="190" r="7.6"/><circle cx="1885.4" cy="263.5" r="7.6"/><circle cx="1831.9" cy="435.2" r="7.6"/><circle cx="1596.9" cy="198.4" r="7.6"/><circle cx="1785.6" cy="498.1" r="7.6"/><circle cx="1901.6" cy="364.6" r="7.6"/><circle cx="1621.8" cy="504.7" r="7.6"/><circle cx="1598.3" cy="188.2" r="7.6"/><circle cx="1837.1" cy="450.4" r="7.6"/><circle cx="1867.8" cy="230.6" r="7.6"/><circle cx="1638.7" cy="189.5" r="7.6"/><circle cx="1495.2" cy="527.6" r="7.6"/><circle cx="1394.4" cy="273" r="7.6"/><circle cx="1544.2" cy="524.6" r="7.6"/><circle cx="1659.3" cy="180" r="7.6"/><circle cx="1949.5" cy="341.4" r="7.6"/><circle cx="1581.6" cy="515.1" r="7.6"/><circle cx="1703.3" cy="172.6" r="7.6"/><circle cx="1789.5" cy="457.2" r="7.6"/><circle cx="1748.6" cy="171.5" r="7.6"/><circle cx="1886.3" cy="434.8" r="7.6"/><circle cx="1695.3" cy="501.1" r="7.6"/><circle cx="1898.1" cy="280.2" r="7.6"/><circle cx="1383.6" cy="264.9" r="7.6"/><circle cx="1931" cy="282.8" r="7.6"/><circle cx="1591.6" cy="195.8" r="7.6"/><circle cx="1533.9" cy="206.9" r="7.6"/><circle cx="1549.7" cy="200.5" r="7.6"/><circle cx="1890.8" cy="246.7" r="7.6"/><circle cx="1467.3" cy="534.4" r="7.6"/><circle cx="1270.9" cy="367.1" r="7.6"/><circle cx="1367" cy="511.7" r="7.6"/><circle cx="1938.3" cy="433.3" r="7.6"/><circle cx="1914.3" cy="454.5" r="7.6"/><circle cx="1524.4" cy="181.7" r="7.6"/><circle cx="1279.1" cy="360.5" r="7.6"/><circle cx="1950.5" cy="266.5" r="7.6"/><circle cx="1402.4" cy="534.6" r="7.6"/><circle cx="1448.4" cy="222.1" r="7.6"/><circle cx="1259.1" cy="281.2" r="7.6"/><circle cx="1197.3" cy="324.1" r="7.6"/><circle cx="1235.1" cy="345.5" r="7.6"/><circle cx="1274.3" cy="303.5" r="7.6"/><circle cx="1257.7" cy="321.2" r="7.6"/><circle cx="1253.4" cy="277.8" r="7.6"/><circle cx="1226" cy="296.7" r="7.6"/><circle cx="1272.9" cy="313.1" r="7.6"/><circle cx="1224.9" cy="274.7" r="7.6"/><circle cx="1256" cy="305.8" r="7.6"/><circle cx="1260.3" cy="338.3" r="7.6"/><circle cx="1243.9" cy="303.5" r="7.6"/><circle cx="1230.5" cy="294.9" r="7.6"/><circle cx="1228.2" cy="308.7" r="7.6"/><circle cx="1240" cy="351.8" r="7.6"/><circle cx="1263.4" cy="293.1" r="7.6"/><circle cx="1216.7" cy="298.7" r="7.6"/><circle cx="1257.3" cy="270" r="7.6"/><circle cx="1286.4" cy="311.7" r="7.6"/><circle cx="1250" cy="322" r="7.6"/><circle cx="1231.4" cy="296" r="7.6"/><circle cx="1278.9" cy="297.9" r="7.6"/><circle cx="1264.7" cy="259.9" r="7.6"/><circle cx="1276.1" cy="314.8" r="7.6"/><circle cx="1263.3" cy="291.2" r="7.6"/><circle cx="1207.4" cy="292" r="7.6"/><circle cx="1249.2" cy="323.5" r="7.6"/><circle cx="1249" cy="323.2" r="7.6"/><circle cx="1250.1" cy="298.6" r="7.6"/><circle cx="1232.2" cy="310.1" r="7.6"/><circle cx="1219.9" cy="326.8" r="7.6"/><circle cx="1270.8" cy="313.7" r="7.6"/><circle cx="1246.4" cy="332" r="7.6"/><circle cx="1207.7" cy="314.9" r="7.6"/><circle cx="1243.2" cy="330.1" r="7.6"/><circle cx="1251.1" cy="289.1" r="7.6"/><circle cx="1258.8" cy="279.5" r="7.6"/><circle cx="1230.9" cy="291.5" r="7.6"/><circle cx="1246" cy="328.7" r="7.6"/><circle cx="1217.7" cy="316.3" r="7.6"/><circle cx="1226.6" cy="320.1" r="7.6"/><circle cx="1246.5" cy="349" r="7.6"/><circle cx="1257.4" cy="294.2" r="7.6"/><circle cx="1199" cy="316.8" r="7.6"/><circle cx="1245.7" cy="331.8" r="7.6"/><circle cx="1243.9" cy="336.4" r="7.6"/><circle cx="1254.3" cy="332.3" r="7.6"/><circle cx="1214.1" cy="351.1" r="7.6"/><circle cx="1222.5" cy="303.2" r="7.6"/><circle cx="1261.4" cy="311.7" r="7.6"/><circle cx="1269.4" cy="316.3" r="7.6"/><circle cx="1234.2" cy="312.9" r="7.6"/><circle cx="1220.9" cy="332.7" r="7.6"/><circle cx="1238.3" cy="320.8" r="7.6"/><circle cx="1254.2" cy="298.3" r="7.6"/><circle cx="1244.8" cy="288.4" r="7.6"/><circle cx="1231.1" cy="271.8" r="7.6"/><circle cx="1215.1" cy="328.5" r="7.6"/><circle cx="1267.9" cy="291.9" r="7.6"/><circle cx="1266.3" cy="310.9" r="7.6"/><circle cx="1259.8" cy="307.7" r="7.6"/><circle cx="1249.7" cy="307.9" r="7.6"/><circle cx="1206.9" cy="328" r="7.6"/><circle cx="1242.2" cy="276.3" r="7.6"/><circle cx="1280.5" cy="301.6" r="7.6"/><circle cx="1241.4" cy="344.2" r="7.6"/><circle cx="1235.8" cy="299.3" r="7.6"/><circle cx="1203.1" cy="271.6" r="7.6"/><circle cx="1231.3" cy="295.9" r="7.6"/><circle cx="1221" cy="275" r="7.6"/><circle cx="1231.6" cy="335.6" r="7.6"/><circle cx="1238" cy="305.2" r="7.6"/><circle cx="1244.8" cy="308" r="7.6"/><circle cx="1248.6" cy="302.8" r="7.6"/><circle cx="1190.5" cy="292.6" r="7.6"/><circle cx="1258.3" cy="310.4" r="7.6"/><circle cx="1255.6" cy="350.2" r="7.6"/><circle cx="1281.2" cy="333.2" r="7.6"/><circle cx="1244.2" cy="277.5" r="7.6"/><circle cx="1241.2" cy="311" r="7.6"/><circle cx="1248.6" cy="316.4" r="7.6"/><circle cx="1243.8" cy="296.3" r="7.6"/><circle cx="1259.4" cy="311.9" r="7.6"/><circle cx="1262.2" cy="287.5" r="7.6"/><circle cx="1279.9" cy="324.8" r="7.6"/><circle cx="1245.9" cy="287.4" r="7.6"/><circle cx="1235.3" cy="297.9" r="7.6"/><circle cx="1255.6" cy="339.5" r="7.6"/><circle cx="1271.4" cy="287.7" r="7.6"/><circle cx="1243.9" cy="338.8" r="7.6"/><circle cx="1247" cy="375.5" r="7.6"/><circle cx="1242.9" cy="330.5" r="7.6"/><circle cx="1256.6" cy="333" r="7.6"/><circle cx="1277.9" cy="312.2" r="7.6"/><circle cx="1279.4" cy="315.5" r="7.6"/><circle cx="1274.9" cy="302.3" r="7.6"/><circle cx="1231.4" cy="322.1" r="7.6"/><circle cx="1269.8" cy="276" r="7.6"/><circle cx="1280.1" cy="306.5" r="7.6"/><circle cx="1197.5" cy="290.1" r="7.6"/><circle cx="1234.6" cy="282" r="7.6"/><circle cx="1216.2" cy="299.2" r="7.6"/><circle cx="1233" cy="349" r="7.6"/><circle cx="1257.6" cy="303.7" r="7.6"/><circle cx="1259" cy="312" r="7.6"/><circle cx="1271.2" cy="289.2" r="7.6"/><circle cx="1254" cy="312.9" r="7.6"/><circle cx="1267.4" cy="314.5" r="7.6"/><circle cx="1260.9" cy="309.6" r="7.6"/><circle cx="1222.3" cy="310.2" r="7.6"/><circle cx="1252.3" cy="300.5" r="7.6"/><circle cx="1250.5" cy="270.4" r="7.6"/><circle cx="1238.4" cy="308.1" r="7.6"/><circle cx="1235.1" cy="283.4" r="7.6"/><circle cx="1209.4" cy="295.8" r="7.6"/><circle cx="1258.4" cy="306" r="7.6"/><circle cx="1270.9" cy="311.2" r="7.6"/><circle cx="1267.5" cy="299.9" r="7.6"/><circle cx="1206.7" cy="285.1" r="7.6"/><circle cx="1248.9" cy="276.8" r="7.6"/><circle cx="1243.7" cy="317.4" r="7.6"/><circle cx="1273.4" cy="338" r="7.6"/><circle cx="1209.3" cy="298.6" r="7.6"/><circle cx="1236.5" cy="309.4" r="7.6"/><circle cx="1234.8" cy="307.4" r="7.6"/><circle cx="1229.1" cy="310.3" r="7.6"/><circle cx="1254.5" cy="277.5" r="7.6"/><circle cx="1229" cy="321.7" r="7.6"/><circle cx="1237.7" cy="315.2" r="7.6"/><circle cx="1275.1" cy="306.4" r="7.6"/><circle cx="1255" cy="342.2" r="7.6"/><circle cx="1245.1" cy="293.4" r="7.6"/><circle cx="1238.2" cy="284.2" r="7.6"/><circle cx="1238.7" cy="292.4" r="7.6"/><circle cx="1259.9" cy="284.1" r="7.6"/><circle cx="1223.8" cy="335.3" r="7.6"/><circle cx="1217.5" cy="293.7" r="7.6"/><circle cx="1272.1" cy="319.7" r="7.6"/><circle cx="1284.9" cy="290.8" r="7.6"/><circle cx="1211.9" cy="315.6" r="7.6"/><circle cx="1249.5" cy="345.5" r="7.6"/><circle cx="1260.4" cy="332.6" r="7.6"/><circle cx="1231.6" cy="308" r="7.6"/><circle cx="1227.5" cy="355.9" r="7.6"/><circle cx="1275.3" cy="327.7" r="7.6"/><circle cx="1200.1" cy="321.4" r="7.6"/><circle cx="1252.7" cy="345.1" r="7.6"/><circle cx="1248.2" cy="321.6" r="7.6"/><circle cx="1237.8" cy="314.9" r="7.6"/><circle cx="1257.2" cy="287.2" r="7.6"/><circle cx="1235" cy="331.6" r="7.6"/><circle cx="1224.9" cy="341.3" r="7.6"/><circle cx="1250.2" cy="305.5" r="7.6"/><circle cx="1268.8" cy="295.5" r="7.6"/><circle cx="1221.2" cy="302.3" r="7.6"/><circle cx="1214.3" cy="311.1" r="7.6"/><circle cx="1216.4" cy="280.6" r="7.6"/><circle cx="1281.9" cy="308.1" r="7.6"/><circle cx="1250.2" cy="321.9" r="7.6"/><circle cx="1275.3" cy="300" r="7.6"/><circle cx="1246.6" cy="350.1" r="7.6"/><circle cx="1232.9" cy="282.3" r="7.6"/><circle cx="1230" cy="294.3" r="7.6"/><circle cx="1233.1" cy="307" r="7.6"/><circle cx="1245.7" cy="322.2" r="7.6"/><circle cx="1221.4" cy="310.2" r="7.6"/><circle cx="1230" cy="305.7" r="7.6"/><circle cx="1230.3" cy="311.8" r="7.6"/><circle cx="1247.6" cy="290.1" r="7.6"/><circle cx="1225" cy="294.4" r="7.6"/><circle cx="1231.6" cy="309.7" r="7.6"/><circle cx="1273.6" cy="302" r="7.6"/><circle cx="1220.2" cy="329.4" r="7.6"/><circle cx="1259.7" cy="304.1" r="7.6"/><circle cx="1241.2" cy="274.4" r="7.6"/><circle cx="1227.6" cy="314.5" r="7.6"/><circle cx="1255.8" cy="322.4" r="7.6"/><circle cx="1260.6" cy="333.2" r="7.6"/><circle cx="1245.2" cy="315.9" r="7.6"/><circle cx="1231.4" cy="336.4" r="7.6"/><circle cx="1217.3" cy="328.3" r="7.6"/><circle cx="1212.9" cy="384.2" r="7.6"/><circle cx="1157.3" cy="297.5" r="7.6"/><circle cx="1201.5" cy="303.9" r="7.6"/><circle cx="1231.3" cy="313.5" r="7.6"/><circle cx="1221.2" cy="330.4" r="7.6"/><circle cx="1227.2" cy="287.1" r="7.6"/><circle cx="1249.4" cy="313.6" r="7.6"/><circle cx="1221.6" cy="348.7" r="7.6"/><circle cx="1236.3" cy="281.7" r="7.6"/><circle cx="1226.7" cy="335.4" r="7.6"/><circle cx="1251" cy="310.4" r="7.6"/><circle cx="1259" cy="307.6" r="7.6"/><circle cx="1207.1" cy="360.7" r="7.6"/><circle cx="1223.6" cy="293.1" r="7.6"/><circle cx="1181.8" cy="340.9" r="7.6"/><circle cx="1235.4" cy="291.8" r="7.6"/><circle cx="1277.1" cy="347.6" r="7.6"/><circle cx="1225.6" cy="300.3" r="7.6"/><circle cx="1220.2" cy="299.6" r="7.6"/><circle cx="1206.2" cy="303.4" r="7.6"/><circle cx="1232.6" cy="369.7" r="7.6"/><circle cx="1244.7" cy="321.1" r="7.6"/><circle cx="1232.1" cy="306.9" r="7.6"/><circle cx="1256.5" cy="284.8" r="7.6"/><circle cx="1244.3" cy="343.9" r="7.6"/><circle cx="1217.9" cy="272.1" r="7.6"/><circle cx="1221" cy="290.5" r="7.6"/><circle cx="1164.2" cy="314.2" r="7.6"/><circle cx="1224.8" cy="314.8" r="7.6"/><circle cx="1207.5" cy="347" r="7.6"/><circle cx="1216.7" cy="299.5" r="7.6"/><circle cx="1270.1" cy="354.9" r="7.6"/><circle cx="1218.7" cy="298.5" r="7.6"/><circle cx="1134.4" cy="294.7" r="7.6"/><circle cx="1288.9" cy="278.8" r="7.6"/><circle cx="1232.8" cy="294.6" r="7.6"/><circle cx="1226.6" cy="341" r="7.6"/><circle cx="1262.8" cy="306.4" r="7.6"/><circle cx="1195.6" cy="313.2" r="7.6"/><circle cx="1161.3" cy="319.6" r="7.6"/><circle cx="1187.1" cy="281.2" r="7.6"/><circle cx="1289.6" cy="432.6" r="7.6"/><circle cx="1275.9" cy="430.6" r="7.6"/><circle cx="1258.8" cy="445" r="7.6"/><circle cx="1265" cy="359.7" r="7.6"/><circle cx="1248.7" cy="419" r="7.6"/><circle cx="1277" cy="451.7" r="7.6"/><circle cx="1251.2" cy="384.4" r="7.6"/><circle cx="1225.1" cy="377.2" r="7.6"/><circle cx="1226.3" cy="457.7" r="7.6"/><circle cx="1278.4" cy="426.4" r="7.6"/><circle cx="1233.1" cy="366.1" r="7.6"/><circle cx="1266.6" cy="446.7" r="7.6"/><circle cx="1255.3" cy="425.8" r="7.6"/><circle cx="1243.5" cy="503.1" r="7.6"/><circle cx="1259.2" cy="451.4" r="7.6"/><circle cx="1252.5" cy="365.9" r="7.6"/><circle cx="1258.5" cy="478.9" r="7.6"/><circle cx="1266.1" cy="298.3" r="7.6"/><circle cx="1251.1" cy="393.8" r="7.6"/><circle cx="1257.8" cy="376.6" r="7.6"/><circle cx="1288.2" cy="434.6" r="7.6"/><circle cx="1259.4" cy="359" r="7.6"/><circle cx="1248.2" cy="414.9" r="7.6"/><circle cx="1255.6" cy="377.8" r="7.6"/><circle cx="1261.5" cy="341.5" r="7.6"/><circle cx="1230.3" cy="427.7" r="7.6"/><circle cx="1236.5" cy="460.5" r="7.6"/><circle cx="1239.7" cy="278.2" r="7.6"/><circle cx="1248" cy="399.4" r="7.6"/><circle cx="1256.8" cy="345.5" r="7.6"/><circle cx="1275.6" cy="382.2" r="7.6"/><circle cx="1252.9" cy="346" r="7.6"/><circle cx="1242.7" cy="391.4" r="7.6"/><circle cx="1255.9" cy="458.8" r="7.6"/><circle cx="1249" cy="444.2" r="7.6"/><circle cx="1248.8" cy="431.4" r="7.6"/><circle cx="1253.6" cy="360.7" r="7.6"/><circle cx="1271.7" cy="414.9" r="7.6"/><circle cx="1288.5" cy="483.8" r="7.6"/><circle cx="1257.3" cy="443.5" r="7.6"/><circle cx="1253.8" cy="366.3" r="7.6"/><circle cx="1259.5" cy="481.5" r="7.6"/><circle cx="1260" cy="546.8" r="7.6"/><circle cx="1244.6" cy="471.6" r="7.6"/><circle cx="1249.8" cy="364.2" r="7.6"/><circle cx="1257.8" cy="398.2" r="7.6"/><circle cx="1278.3" cy="315" r="7.6"/><circle cx="1216.8" cy="418.3" r="7.6"/><circle cx="1251.8" cy="454.9" r="7.6"/><circle cx="1275.2" cy="384.9" r="7.6"/><circle cx="1225.4" cy="368" r="7.6"/><circle cx="1268.2" cy="415.4" r="7.6"/><circle cx="1240.4" cy="467.9" r="7.6"/><circle cx="1250.3" cy="383" r="7.6"/><circle cx="1246" cy="399.9" r="7.6"/><circle cx="1263.1" cy="416.3" r="7.6"/><circle cx="1262.2" cy="529" r="7.6"/><circle cx="1255" cy="389" r="7.6"/><circle cx="1249.7" cy="403.1" r="7.6"/><circle cx="1239.8" cy="418.9" r="7.6"/><circle cx="1412.7" cy="257.1" r="7.6"/><circle cx="1413.2" cy="246.8" r="7.6"/><circle cx="1412.4" cy="228.3" r="7.6"/><circle cx="1412.1" cy="235.4" r="7.6"/><circle cx="1395" cy="271.7" r="7.6"/><circle cx="1408.6" cy="251" r="7.6"/><circle cx="1430.6" cy="237" r="7.6"/><circle cx="1440.9" cy="239.5" r="7.6"/><circle cx="1406.2" cy="233.1" r="7.6"/><circle cx="1426.5" cy="241.8" r="7.6"/><circle cx="1378.7" cy="259.9" r="7.6"/><circle cx="1399" cy="238.8" r="7.6"/><circle cx="1415.5" cy="233.3" r="7.6"/><circle cx="1408" cy="219.9" r="7.6"/><circle cx="1407.4" cy="245.1" r="7.6"/><circle cx="1395.6" cy="232.5" r="7.6"/><circle cx="1418.5" cy="234.7" r="7.6"/><circle cx="1411.8" cy="233.8" r="7.6"/><circle cx="1386.7" cy="216.6" r="7.6"/><circle cx="1413.3" cy="226.1" r="7.6"/><circle cx="1415.2" cy="241.1" r="7.6"/><circle cx="1413.4" cy="239.2" r="7.6"/><circle cx="1417.5" cy="240.5" r="7.6"/><circle cx="1406.4" cy="239.9" r="7.6"/><circle cx="1415.6" cy="250.9" r="7.6"/><circle cx="1410.2" cy="258.4" r="7.6"/><circle cx="1409.2" cy="247.3" r="7.6"/><circle cx="1425.2" cy="243.5" r="7.6"/><circle cx="1273" cy="541.9" r="7.6"/><circle cx="1274.2" cy="497" r="7.6"/><circle cx="1286.6" cy="509" r="7.6"/><circle cx="1270.1" cy="504.7" r="7.6"/><circle cx="1268" cy="509.4" r="7.6"/><circle cx="1251" cy="520.4" r="7.6"/><circle cx="1290" cy="479.6" r="7.6"/><circle cx="1277.1" cy="482.1" r="7.6"/><circle cx="1279.5" cy="495.2" r="7.6"/><circle cx="1258.5" cy="507.7" r="7.6"/><circle cx="1281.2" cy="508.4" r="7.6"/><circle cx="1274" cy="453.6" r="7.6"/><circle cx="1300.5" cy="513.3" r="7.6"/><circle cx="1233.8" cy="492.1" r="7.6"/><circle cx="1275.3" cy="478.6" r="7.6"/><circle cx="1267.1" cy="495.7" r="7.6"/><circle cx="1265.7" cy="506.1" r="7.6"/><circle cx="1272" cy="461.1" r="7.6"/><circle cx="1275.3" cy="505.6" r="7.6"/><circle cx="1275.1" cy="477.8" r="7.6"/><circle cx="1272.7" cy="499.4" r="7.6"/><circle cx="1308.8" cy="501.4" r="7.6"/><circle cx="1279.3" cy="514.6" r="7.6"/><circle cx="1261.2" cy="530.6" r="7.6"/><circle cx="1272.1" cy="502.1" r="7.6"/><circle cx="1271.9" cy="524.9" r="7.6"/><circle cx="1260.7" cy="479" r="7.6"/><circle cx="1263.1" cy="494.5" r="7.6"/><circle cx="1257.6" cy="499.1" r="7.6"/><circle cx="1242.7" cy="517.2" r="7.6"/><circle cx="1291.2" cy="499.8" r="7.6"/><circle cx="1266.5" cy="498.9" r="7.6"/><circle cx="1267.7" cy="501" r="7.6"/><circle cx="1255.7" cy="494.2" r="7.6"/><circle cx="1254.2" cy="502.9" r="7.6"/><circle cx="1121" cy="287.3" r="7.6"/><circle cx="1129.4" cy="298.5" r="7.6"/><circle cx="1116.3" cy="318.1" r="7.6"/><circle cx="1360.6" cy="221.4" r="7.6"/><circle cx="1369" cy="207.4" r="7.6"/><circle cx="1381.6" cy="229.9" r="7.6"/><circle cx="1385.8" cy="201.8" r="7.6"/><circle cx="1395.6" cy="206" r="7.6"/><circle cx="1392.8" cy="199" r="7.6"/><circle cx="1436.2" cy="197.6" r="7.6"/><circle cx="1447.4" cy="180.8" r="7.6"/><circle cx="1192.5" cy="278.9" r="7.6"/><circle cx="1175.6" cy="290.1" r="7.6"/><circle cx="1161.6" cy="313.9" r="7.6"/><circle cx="1161.6" cy="329.3" r="7.6"/><circle cx="1175.6" cy="346.1" r="7.6"/><circle cx="1198" cy="389.6" r="7.6"/><circle cx="1231.7" cy="274.7" r="7.6"/><circle cx="1240" cy="273.3" r="7.6"/><circle cx="1450.6" cy="180.9" r="7.6"/><circle cx="1435.8" cy="198.2" r="7.6"/><circle cx="1459.2" cy="198.7" r="7.6"/><circle cx="1485.1" cy="181.9" r="7.6"/><circle cx="1507.3" cy="172.8" r="7.6"/><circle cx="1533.2" cy="163.7" r="7.6"/><circle cx="1557.9" cy="174" r="7.6"/><circle cx="1567.8" cy="176.5" r="7.6"/><circle cx="1599.9" cy="162.9" r="7.6"/><circle cx="1609.7" cy="165.4" r="7.6"/><circle cx="1656.6" cy="149.3" r="7.6"/><circle cx="1681.3" cy="135.8" r="7.6"/><circle cx="1705.2" cy="131" r="7.6"/><circle cx="1736.1" cy="133.6" r="7.6"/><circle cx="1753.6" cy="131" r="7.6"/><circle cx="1789.9" cy="139" r="7.6"/><circle cx="1808.7" cy="143" r="7.6"/><circle cx="1838.3" cy="144.4" r="7.6"/><circle cx="1849.1" cy="137.7" r="7.6"/><circle cx="1857.2" cy="156.5" r="7.6"/><circle cx="1870.6" cy="167.3" r="7.6"/><circle cx="1884.1" cy="187.4" r="7.6"/><circle cx="1884.1" cy="206.3" r="7.6"/><circle cx="1919" cy="194.2" r="7.6"/><circle cx="1927.1" cy="209" r="7.6"/><circle cx="1944.6" cy="215.7" r="7.6"/><circle cx="1919" cy="231.8" r="7.6"/><circle cx="1946" cy="248" r="7.6"/><circle cx="1962" cy="249.3" r="7.6"/><circle cx="1968.8" cy="258.7" r="7.6"/><circle cx="1990.3" cy="281.6" r="7.6"/><circle cx="1959.4" cy="287" r="7.6"/><circle cx="1966.1" cy="299.1" r="7.6"/><circle cx="1979.6" cy="320.6" r="7.6"/><circle cx="1986.3" cy="332.7" r="7.6"/><circle cx="1988.6" cy="346.6" r="7.6"/><circle cx="1969.7" cy="356.9" r="7.6"/><circle cx="1977" cy="374.3" r="7.6"/><circle cx="1979.9" cy="397.7" r="7.6"/><circle cx="1981.3" cy="412.2" r="7.6"/><circle cx="1966.8" cy="428.3" r="7.6"/><circle cx="1949.3" cy="415.2" r="7.6"/><circle cx="1909.9" cy="445.8" r="7.6"/><circle cx="1915.7" cy="431.2" r="7.6"/><circle cx="1930.3" cy="442.9" r="7.6"/><circle cx="1930.3" cy="458.9" r="7.6"/><circle cx="1947.8" cy="447.2" r="7.6"/><circle cx="1947.8" cy="453.1" r="7.6"/><circle cx="1886.6" cy="458.9" r="7.6"/><circle cx="1869.1" cy="463.3" r="7.6"/><circle cx="1901.2" cy="476.4" r="7.6"/><circle cx="1911.4" cy="476.4" r="7.6"/><circle cx="1889.5" cy="495.3" r="7.6"/><circle cx="1828.3" cy="495.3" r="7.6"/><circle cx="1969.7" cy="472" r="7.6"/><circle cx="1982.8" cy="474.9" r="7.6"/><circle cx="1968.2" cy="485.1" r="7.6"/><circle cx="1963.8" cy="499.7" r="7.6"/><circle cx="1714.6" cy="508.5" r="7.6"/><circle cx="1740.8" cy="504.1" r="7.6"/><circle cx="1642.4" cy="528.3" r="7.6"/><circle cx="1659.7" cy="534.4" r="7.6"/><circle cx="1525.2" cy="555.4" r="7.6"/><circle cx="1477.1" cy="557.9" r="7.6"/><circle cx="1444" cy="561" r="7.6"/><circle cx="1206.2" cy="441.9" r="7.6"/><circle cx="1216.6" cy="466.1" r="7.6"/><circle cx="1205.5" cy="532" r="7.6"/><circle cx="1222.8" cy="530.7" r="7.6"/><circle cx="1216.6" cy="539.4" r="7.6"/><circle cx="1249.5" cy="579.5" r="7.6"/><circle cx="1319.5" cy="580.5" r="7.6"/><circle cx="1332" cy="575" r="7.6"/><circle cx="1362" cy="570" r="7.6"/><circle cx="1391" cy="573" r="7.6"/><circle cx="1403" cy="582" r="7.6"/><circle cx="1420.5" cy="589.5" r="7.6"/><circle cx="1242.5" cy="512.2" r="7.6"/><circle cx="1252.4" cy="522.1" r="7.6"/><circle cx="1284.4" cy="548" r="7.6"/><circle cx="1302.5" cy="556" r="7.6"/><circle cx="1323.9" cy="552.9" r="7.6"/><circle cx="1342.4" cy="554.2" r="7.6"/><circle cx="1239.9" cy="467.6" r="7.6"/><circle cx="1249.3" cy="491.8" r="7.6"/><circle cx="1215.7" cy="376.1" r="7.6"/><circle cx="1226.4" cy="388.2" r="7.6"/>
</g>
<circle cx="1548.8" cy="364.3" r="272.4" fill="none" stroke="#fff" stroke-width="9.6"/>
<circle cx="1548.8" cy="364.3" r="272.4" fill="none" stroke="#000" stroke-width="6"/>
<circle cx="1548.8" cy="364.3" r="136.1" fill="none" stroke="#fff" stroke-width="9.4"/>
<circle cx="1548.8" cy="364.3" r="136.1" fill="none" stroke="#f00" stroke-width="5.8"/>
<circle cx="1548.8" cy="364.3" r="107.8" fill="none" stroke="#fff" stroke-width="9.4"/>
<circle cx="1548.8" cy="364.3" r="107.8" fill="none" stroke="#0ff" stroke-width="5.8"/>
<path d="M1107.5 364.2H1991.3M1549.4 11V717.6" stroke="#444" stroke-width="1.4" fill="none"/>
<path d="M1107.7 717.6v-10M1107.7 11v10M1328.5 717.6v-10M1328.5 11v10M1549.4 717.6v-10M1549.4 11v10M1770.3 717.6v-10M1770.3 11v10M1991.2 717.6v-10M1991.2 11v10M1107.5 717.6h10M1991.3 717.6h-10M1107.5 629.2h10M1991.3 629.2h-10M1107.5 540.9h10M1991.3 540.9h-10M1107.5 452.5h10M1991.3 452.5h-10M1107.5 364.2h10M1991.3 364.2h-10M1107.5 275.9h10M1991.3 275.9h-10M1107.5 187.5h10M1991.3 187.5h-10M1107.5 99.2h10M1991.3 99.2h-10M1107.5 10.8h10M1991.3 10.8h-10" stroke="#262626" stroke-width="1.8" fill="none"/>
<rect x="1107.5" y="11" width="883.8" height="706.6" fill="none" stroke="#262626" stroke-width="2"/>
</g>
<path d="M551 363L437.8 261.3" stroke="#000" stroke-width="2" fill="none"/>
<path d="M423 248L451 258.8L437.8 261.3L436.7 274.7Z" fill="#000"/>
<path d="M551 363L615.6 275.5" stroke="#000" stroke-width="2" fill="none"/>
<path d="M627.4 259.5L619.4 288.4L615.6 275.5L602.2 275.7Z" fill="#000"/>
<path d="M551 363L302.2 584.8" stroke="#000" stroke-width="2" fill="none"/>
<path d="M287.4 598L301.2 571.4L302.2 584.8L315.4 587.4Z" fill="#000"/>
<path d="M1550.5 369.5L1489.6 302" stroke="#000" stroke-width="2" fill="none"/>
<path d="M1476.3 287.2L1503 300.8L1489.6 302L1487.1 315.2Z" fill="#000"/>
<path d="M1550.5 369.5L1594.5 322.8" stroke="#000" stroke-width="2" fill="none"/>
<path d="M1608.1 308.3L1596.7 336L1594.5 322.8L1581.1 321.4Z" fill="#000"/>
<path d="M1550.5 369.5L1383.2 549" stroke="#000" stroke-width="2" fill="none"/>
<path d="M1369.6 563.5L1380.9 535.7L1383.2 549L1396.5 550.3Z" fill="#000"/>
<g font-family="Liberation Serif, Times New Roman, serif" font-weight="bold" font-size="33" fill="#262626" stroke="#262626" stroke-width="0.3">
<text x="192.9" y="761" text-anchor="middle">-15</text>
<text x="312.6" y="761" text-anchor="middle">-10</text>
<text x="432.3" y="761" text-anchor="middle">-5</text>
<text x="552" y="761" text-anchor="middle">0</text>
<text x="671.8" y="761" text-anchor="middle">5</text>
<text x="791.4" y="761" text-anchor="middle">10</text>
<text x="911.1" y="761" text-anchor="middle">15</text>
<text x="87" y="612.6" text-anchor="end">-10</text>
<text x="87" y="492.9" text-anchor="end">-5</text>
<text x="87" y="373.2" text-anchor="end">0</text>
<text x="87" y="253.5" text-anchor="end">5</text>
<text x="87" y="133.8" text-anchor="end">10</text>
<text x="1107.7" y="760" text-anchor="middle">-5</text>
<text x="1328.5" y="760" text-anchor="middle">-2.5</text>
<text x="1549.4" y="760" text-anchor="middle">0</text>
<text x="1770.3" y="760" text-anchor="middle">2.5</text>
<text x="1991.2" y="760" text-anchor="middle">5</text>
<text x="1094" y="640.2" text-anchor="end">-3</text>
<text x="1094" y="551.9" text-anchor="end">-2</text>
<text x="1094" y="463.5" text-anchor="end">-1</text>
<text x="1094" y="375.2" text-anchor="end">0</text>
<text x="1094" y="286.9" text-anchor="end">1</text>
<text x="1094" y="198.5" text-anchor="end">2</text>
<text x="1094" y="110.2" text-anchor="end">3</text>
<text x="1094" y="21.8" text-anchor="end">4</text>
</g>
<g font-family="Liberation Serif, Times New Roman, serif" font-weight="bold" font-size="36.5" fill="#262626" stroke="#262626" stroke-width="0.3">
<text x="550.7" y="808" text-anchor="middle">East error (m)</text>
<text x="1549.2" y="806.4" text-anchor="middle">East error (m)</text>
<text transform="translate(23.8 364.25) rotate(-90)" text-anchor="middle">North error (m)</text>
<text transform="translate(1048.6 366.6) rotate(-90)" text-anchor="middle">North error (m)</text>
</g>
<g font-family="Liberation Serif, Times New Roman, serif" font-size="48" fill="#000">
<text x="566.4" y="880.3" text-anchor="middle">a)</text>
<text x="1525.3" y="880.3" text-anchor="middle">b)</text>
</g>
<g font-family="Liberation Serif, Times New Roman, serif" font-weight="bold" font-size="33" fill="#000" stroke="#000" stroke-width="0.5">
<text x="378.3" y="357" textLength="172" lengthAdjust="spacingAndGlyphs">DRMS=7.44</text>
<text x="582.8" y="358.5" textLength="141.5" lengthAdjust="spacingAndGlyphs">CEP=5.33</text>
<text x="330.9" y="607" textLength="206.6" lengthAdjust="spacingAndGlyphs">2DRMS=14.88</text>
<text x="1352.4" y="369.4" textLength="172.6" lengthAdjust="spacingAndGlyphs">DRMS=1.54</text>
<text x="1584.4" y="369.2" textLength="139.6" lengthAdjust="spacingAndGlyphs">CEP=1.22</text>
<text x="1438.6" y="537.6" textLength="187" lengthAdjust="spacingAndGlyphs">2DRMS=3.08</text>
</g>
</svg></body></html>
